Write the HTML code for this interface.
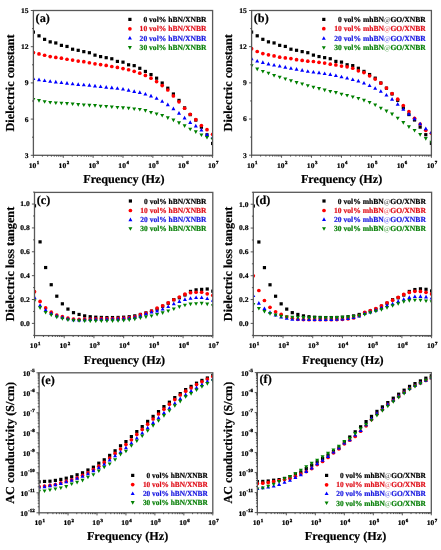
<!DOCTYPE html><html><head><meta charset="utf-8"><style>html,body{margin:0;padding:0;background:#fff;width:441px;height:550px;overflow:hidden}</style></head><body><svg width="441" height="550" viewBox="0 0 441 550" font-family='"Liberation Serif", serif' style="display:block;will-change:transform;text-rendering:geometricPrecision">
<rect width="441" height="550" fill="#fff"/>
<clipPath id="ca"><rect x="33.4" y="10.5" width="179.2" height="144.8"/></clipPath>
<g clip-path="url(#ca)">
<rect x="31.8" y="30.5" width="3.2" height="3.2" fill="#000000"/>
<rect x="37.4" y="34.24" width="3.2" height="3.2" fill="#000000"/>
<rect x="43" y="37.74" width="3.2" height="3.2" fill="#000000"/>
<rect x="48.6" y="40.27" width="3.2" height="3.2" fill="#000000"/>
<rect x="54.2" y="41.36" width="3.2" height="3.2" fill="#000000"/>
<rect x="59.8" y="43.77" width="3.2" height="3.2" fill="#000000"/>
<rect x="65.4" y="44.86" width="3.2" height="3.2" fill="#000000"/>
<rect x="71" y="47.63" width="3.2" height="3.2" fill="#000000"/>
<rect x="76.6" y="48.72" width="3.2" height="3.2" fill="#000000"/>
<rect x="82.2" y="50.05" width="3.2" height="3.2" fill="#000000"/>
<rect x="87.8" y="51.13" width="3.2" height="3.2" fill="#000000"/>
<rect x="93.4" y="53.55" width="3.2" height="3.2" fill="#000000"/>
<rect x="99" y="54.99" width="3.2" height="3.2" fill="#000000"/>
<rect x="104.6" y="56.08" width="3.2" height="3.2" fill="#000000"/>
<rect x="110.2" y="57.17" width="3.2" height="3.2" fill="#000000"/>
<rect x="115.8" y="59.82" width="3.2" height="3.2" fill="#000000"/>
<rect x="121.4" y="60.55" width="3.2" height="3.2" fill="#000000"/>
<rect x="127" y="63.2" width="3.2" height="3.2" fill="#000000"/>
<rect x="132.6" y="64.04" width="3.2" height="3.2" fill="#000000"/>
<rect x="138.2" y="66.7" width="3.2" height="3.2" fill="#000000"/>
<rect x="143.8" y="69.84" width="3.2" height="3.2" fill="#000000"/>
<rect x="149.4" y="72.97" width="3.2" height="3.2" fill="#000000"/>
<rect x="155" y="76.59" width="3.2" height="3.2" fill="#000000"/>
<rect x="160.6" y="81.42" width="3.2" height="3.2" fill="#000000"/>
<rect x="166.2" y="86.61" width="3.2" height="3.2" fill="#000000"/>
<rect x="171.8" y="92.4" width="3.2" height="3.2" fill="#000000"/>
<rect x="177.4" y="98.8" width="3.2" height="3.2" fill="#000000"/>
<rect x="183" y="106.28" width="3.2" height="3.2" fill="#000000"/>
<rect x="188.6" y="113.04" width="3.2" height="3.2" fill="#000000"/>
<rect x="194.2" y="118.47" width="3.2" height="3.2" fill="#000000"/>
<rect x="199.8" y="125.58" width="3.2" height="3.2" fill="#000000"/>
<rect x="205.4" y="133.19" width="3.2" height="3.2" fill="#000000"/>
<rect x="211" y="141.87" width="3.2" height="3.2" fill="#000000"/>
<circle cx="33.4" cy="52.61" r="1.85" fill="#ff0000"/>
<circle cx="39" cy="53.94" r="1.85" fill="#ff0000"/>
<circle cx="44.6" cy="55.27" r="1.85" fill="#ff0000"/>
<circle cx="50.2" cy="56.59" r="1.85" fill="#ff0000"/>
<circle cx="55.8" cy="57.44" r="1.85" fill="#ff0000"/>
<circle cx="61.4" cy="58.16" r="1.85" fill="#ff0000"/>
<circle cx="67" cy="59.25" r="1.85" fill="#ff0000"/>
<circle cx="72.6" cy="60.09" r="1.85" fill="#ff0000"/>
<circle cx="78.2" cy="61.06" r="1.85" fill="#ff0000"/>
<circle cx="83.8" cy="61.66" r="1.85" fill="#ff0000"/>
<circle cx="89.4" cy="62.75" r="1.85" fill="#ff0000"/>
<circle cx="95" cy="63.83" r="1.85" fill="#ff0000"/>
<circle cx="100.6" cy="64.56" r="1.85" fill="#ff0000"/>
<circle cx="106.2" cy="65.4" r="1.85" fill="#ff0000"/>
<circle cx="111.8" cy="66.49" r="1.85" fill="#ff0000"/>
<circle cx="117.4" cy="67.45" r="1.85" fill="#ff0000"/>
<circle cx="123" cy="68.54" r="1.85" fill="#ff0000"/>
<circle cx="128.6" cy="69.75" r="1.85" fill="#ff0000"/>
<circle cx="134.2" cy="71.32" r="1.85" fill="#ff0000"/>
<circle cx="139.8" cy="73.13" r="1.85" fill="#ff0000"/>
<circle cx="145.4" cy="75.42" r="1.85" fill="#ff0000"/>
<circle cx="151" cy="78.19" r="1.85" fill="#ff0000"/>
<circle cx="156.6" cy="81.57" r="1.85" fill="#ff0000"/>
<circle cx="162.2" cy="85.55" r="1.85" fill="#ff0000"/>
<circle cx="167.8" cy="90.02" r="1.85" fill="#ff0000"/>
<circle cx="173.4" cy="95.93" r="1.85" fill="#ff0000"/>
<circle cx="179" cy="101.84" r="1.85" fill="#ff0000"/>
<circle cx="184.6" cy="108.24" r="1.85" fill="#ff0000"/>
<circle cx="190.2" cy="114.27" r="1.85" fill="#ff0000"/>
<circle cx="195.8" cy="119.7" r="1.85" fill="#ff0000"/>
<circle cx="201.4" cy="125.5" r="1.85" fill="#ff0000"/>
<circle cx="207" cy="129.72" r="1.85" fill="#ff0000"/>
<circle cx="212.6" cy="134.3" r="1.85" fill="#ff0000"/>
<path d="M31.4 79.97L35.4 79.97L33.4 76.37Z" fill="#0000ff"/>
<path d="M37 81.17L41 81.17L39 77.57Z" fill="#0000ff"/>
<path d="M42.6 82.02L46.6 82.02L44.6 78.42Z" fill="#0000ff"/>
<path d="M48.2 82.74L52.2 82.74L50.2 79.14Z" fill="#0000ff"/>
<path d="M53.8 83.46L57.8 83.46L55.8 79.86Z" fill="#0000ff"/>
<path d="M59.4 84.07L63.4 84.07L61.4 80.47Z" fill="#0000ff"/>
<path d="M65 84.67L69 84.67L67 81.07Z" fill="#0000ff"/>
<path d="M70.6 85.27L74.6 85.27L72.6 81.67Z" fill="#0000ff"/>
<path d="M76.2 85.88L80.2 85.88L78.2 82.28Z" fill="#0000ff"/>
<path d="M81.8 86.24L85.8 86.24L83.8 82.64Z" fill="#0000ff"/>
<path d="M87.4 86.72L91.4 86.72L89.4 83.12Z" fill="#0000ff"/>
<path d="M93 87.45L97 87.45L95 83.85Z" fill="#0000ff"/>
<path d="M98.6 88.05L102.6 88.05L100.6 84.45Z" fill="#0000ff"/>
<path d="M104.2 88.65L108.2 88.65L106.2 85.05Z" fill="#0000ff"/>
<path d="M109.8 89.14L113.8 89.14L111.8 85.54Z" fill="#0000ff"/>
<path d="M115.4 89.86L119.4 89.86L117.4 86.26Z" fill="#0000ff"/>
<path d="M121 90.58L125 90.58L123 86.98Z" fill="#0000ff"/>
<path d="M126.6 91.67L130.6 91.67L128.6 88.07Z" fill="#0000ff"/>
<path d="M132.2 92.88L136.2 92.88L134.2 89.28Z" fill="#0000ff"/>
<path d="M137.8 93.96L141.8 93.96L139.8 90.36Z" fill="#0000ff"/>
<path d="M143.4 95.53L147.4 95.53L145.4 91.93Z" fill="#0000ff"/>
<path d="M149 97.46L153 97.46L151 93.86Z" fill="#0000ff"/>
<path d="M154.6 99.75L158.6 99.75L156.6 96.15Z" fill="#0000ff"/>
<path d="M160.2 102.77L164.2 102.77L162.2 99.17Z" fill="#0000ff"/>
<path d="M165.8 106.15L169.8 106.15L167.8 102.55Z" fill="#0000ff"/>
<path d="M171.4 110.13L175.4 110.13L173.4 106.53Z" fill="#0000ff"/>
<path d="M177 114.72L181 114.72L179 111.12Z" fill="#0000ff"/>
<path d="M182.6 119.42L186.6 119.42L184.6 115.82Z" fill="#0000ff"/>
<path d="M188.2 123.89L192.2 123.89L190.2 120.29Z" fill="#0000ff"/>
<path d="M193.8 127.39L197.8 127.39L195.8 123.79Z" fill="#0000ff"/>
<path d="M199.4 131.61L203.4 131.61L201.4 128.01Z" fill="#0000ff"/>
<path d="M205 136.2L209 136.2L207 132.6Z" fill="#0000ff"/>
<path d="M210.6 138.97L214.6 138.97L212.6 135.37Z" fill="#0000ff"/>
<path d="M31.4 98.02L35.4 98.02L33.4 101.62Z" fill="#008000"/>
<path d="M37 99.11L41 99.11L39 102.71Z" fill="#008000"/>
<path d="M42.6 100.19L46.6 100.19L44.6 103.79Z" fill="#008000"/>
<path d="M48.2 100.92L52.2 100.92L50.2 104.52Z" fill="#008000"/>
<path d="M53.8 101.4L57.8 101.4L55.8 105Z" fill="#008000"/>
<path d="M59.4 101.76L63.4 101.76L61.4 105.36Z" fill="#008000"/>
<path d="M65 102.12L69 102.12L67 105.72Z" fill="#008000"/>
<path d="M70.6 102.49L74.6 102.49L72.6 106.09Z" fill="#008000"/>
<path d="M76.2 103.09L80.2 103.09L78.2 106.69Z" fill="#008000"/>
<path d="M81.8 103.45L85.8 103.45L83.8 107.05Z" fill="#008000"/>
<path d="M87.4 103.81L91.4 103.81L89.4 107.41Z" fill="#008000"/>
<path d="M93 104.06L97 104.06L95 107.66Z" fill="#008000"/>
<path d="M98.6 104.66L102.6 104.66L100.6 108.26Z" fill="#008000"/>
<path d="M104.2 105.02L108.2 105.02L106.2 108.62Z" fill="#008000"/>
<path d="M109.8 105.5L113.8 105.5L111.8 109.1Z" fill="#008000"/>
<path d="M115.4 105.99L119.4 105.99L117.4 109.59Z" fill="#008000"/>
<path d="M121 106.35L125 106.35L123 109.95Z" fill="#008000"/>
<path d="M126.6 106.71L130.6 106.71L128.6 110.31Z" fill="#008000"/>
<path d="M132.2 107.43L136.2 107.43L134.2 111.03Z" fill="#008000"/>
<path d="M137.8 107.92L141.8 107.92L139.8 111.52Z" fill="#008000"/>
<path d="M143.4 109.12L147.4 109.12L145.4 112.72Z" fill="#008000"/>
<path d="M149 110.93L153 110.93L151 114.53Z" fill="#008000"/>
<path d="M154.6 112.38L158.6 112.38L156.6 115.98Z" fill="#008000"/>
<path d="M160.2 113.95L164.2 113.95L162.2 117.55Z" fill="#008000"/>
<path d="M165.8 116.36L169.8 116.36L167.8 119.96Z" fill="#008000"/>
<path d="M171.4 118.54L175.4 118.54L173.4 122.14Z" fill="#008000"/>
<path d="M177 121.31L181 121.31L179 124.91Z" fill="#008000"/>
<path d="M182.6 124.33L186.6 124.33L184.6 127.93Z" fill="#008000"/>
<path d="M188.2 127.71L192.2 127.71L190.2 131.31Z" fill="#008000"/>
<path d="M193.8 130.36L197.8 130.36L195.8 133.96Z" fill="#008000"/>
<path d="M199.4 133.5L203.4 133.5L201.4 137.1Z" fill="#008000"/>
<path d="M205 135.91L209 135.91L207 139.51Z" fill="#008000"/>
<path d="M210.6 137.72L214.6 137.72L212.6 141.32Z" fill="#008000"/>
</g>
<rect x="33.4" y="10.5" width="179.2" height="144.8" fill="none" stroke="#585858" stroke-width="1.3"/>
<text transform="translate(34,167.8) scale(1,0.95)" font-size="7.6" text-anchor="middle" fill="#000" stroke="#000" stroke-width="0.2" font-weight="bold" >10<tspan font-size="4.9" dx="0.5" dy="-3.5" stroke-width="0.35">1</tspan></text>
<text transform="translate(63.87,167.8) scale(1,0.95)" font-size="7.6" text-anchor="middle" fill="#000" stroke="#000" stroke-width="0.2" font-weight="bold" >10<tspan font-size="4.9" dx="0.5" dy="-3.5" stroke-width="0.35">2</tspan></text>
<text transform="translate(93.73,167.8) scale(1,0.95)" font-size="7.6" text-anchor="middle" fill="#000" stroke="#000" stroke-width="0.2" font-weight="bold" >10<tspan font-size="4.9" dx="0.5" dy="-3.5" stroke-width="0.35">3</tspan></text>
<text transform="translate(123.6,167.8) scale(1,0.95)" font-size="7.6" text-anchor="middle" fill="#000" stroke="#000" stroke-width="0.2" font-weight="bold" >10<tspan font-size="4.9" dx="0.5" dy="-3.5" stroke-width="0.35">4</tspan></text>
<text transform="translate(153.47,167.8) scale(1,0.95)" font-size="7.6" text-anchor="middle" fill="#000" stroke="#000" stroke-width="0.2" font-weight="bold" >10<tspan font-size="4.9" dx="0.5" dy="-3.5" stroke-width="0.35">5</tspan></text>
<text transform="translate(183.33,167.8) scale(1,0.95)" font-size="7.6" text-anchor="middle" fill="#000" stroke="#000" stroke-width="0.2" font-weight="bold" >10<tspan font-size="4.9" dx="0.5" dy="-3.5" stroke-width="0.35">6</tspan></text>
<text transform="translate(213.2,167.8) scale(1,0.95)" font-size="7.6" text-anchor="middle" fill="#000" stroke="#000" stroke-width="0.2" font-weight="bold" >10<tspan font-size="4.9" dx="0.5" dy="-3.5" stroke-width="0.35">7</tspan></text>
<path d="M33.4 155.3V157.9M42.39 155.3V156.7M47.65 155.3V156.7M51.38 155.3V156.7M54.28 155.3V156.7M56.64 155.3V156.7M58.64 155.3V156.7M60.37 155.3V156.7M61.9 155.3V156.7M63.27 155.3V157.9M72.26 155.3V156.7M77.52 155.3V156.7M81.25 155.3V156.7M84.14 155.3V156.7M86.51 155.3V156.7M88.51 155.3V156.7M90.24 155.3V156.7M91.77 155.3V156.7M93.13 155.3V157.9M102.12 155.3V156.7M107.38 155.3V156.7M111.11 155.3V156.7M114.01 155.3V156.7M116.37 155.3V156.7M118.37 155.3V156.7M120.11 155.3V156.7M121.63 155.3V156.7M123 155.3V157.9M131.99 155.3V156.7M137.25 155.3V156.7M140.98 155.3V156.7M143.88 155.3V156.7M146.24 155.3V156.7M148.24 155.3V156.7M149.97 155.3V156.7M151.5 155.3V156.7M152.87 155.3V157.9M161.86 155.3V156.7M167.12 155.3V156.7M170.85 155.3V156.7M173.74 155.3V156.7M176.11 155.3V156.7M178.11 155.3V156.7M179.84 155.3V156.7M181.37 155.3V156.7M182.73 155.3V157.9M191.72 155.3V156.7M196.98 155.3V156.7M200.71 155.3V156.7M203.61 155.3V156.7M205.97 155.3V156.7M207.97 155.3V156.7M209.71 155.3V156.7M211.23 155.3V156.7M212.6 155.3V157.9" stroke="#454545" stroke-width="0.9" fill="none"/>
<text transform="translate(28.6,157.7) scale(1,0.95)" font-size="7.6" text-anchor="end" fill="#000" stroke="#000" stroke-width="0.2" font-weight="bold" >3</text>
<text transform="translate(28.6,121.5) scale(1,0.95)" font-size="7.6" text-anchor="end" fill="#000" stroke="#000" stroke-width="0.2" font-weight="bold" >6</text>
<text transform="translate(28.6,85.3) scale(1,0.95)" font-size="7.6" text-anchor="end" fill="#000" stroke="#000" stroke-width="0.2" font-weight="bold" >9</text>
<text transform="translate(28.6,49.1) scale(1,0.95)" font-size="7.6" text-anchor="end" fill="#000" stroke="#000" stroke-width="0.2" font-weight="bold" >12</text>
<text transform="translate(28.6,12.9) scale(1,0.95)" font-size="7.6" text-anchor="end" fill="#000" stroke="#000" stroke-width="0.2" font-weight="bold" >15</text>
<path d="M33.4 155.3H30.8M33.4 137.2H32M33.4 119.1H30.8M33.4 101H32M33.4 82.9H30.8M33.4 64.8H32M33.4 46.7H30.8M33.4 28.6H32M33.4 10.5H30.8" stroke="#454545" stroke-width="0.9" fill="none"/>
<text x="35.6" y="21.7" font-size="12.2" text-anchor="start" fill="#000" stroke="#000" stroke-width="0.2" font-weight="bold" >(a)</text>
<text x="123.9" y="183.3" font-size="12.2" text-anchor="middle" fill="#000" stroke="#000" stroke-width="0.2" font-weight="bold" >Frequency (Hz)</text>
<text transform="translate(13.6,82.9) rotate(-90)" x="0" y="0" font-size="12.2" text-anchor="middle" font-weight="bold" stroke="#000" stroke-width="0.2">Dielectric constant</text>
<rect x="128.3" y="17.8" width="3.2" height="3.2" fill="#000000"/>
<text transform="translate(206.5,22) scale(0.985,1)" font-size="7.7" text-anchor="end" fill="#000000" stroke="#000000" stroke-width="0.2" font-weight="bold" >0 vol% hBN/XNBR</text>
<circle cx="129.9" cy="28.8" r="1.85" fill="#ff0000"/>
<text transform="translate(206.5,31.4) scale(0.985,1)" font-size="7.7" text-anchor="end" fill="#e0101a" stroke="#e0101a" stroke-width="0.2" font-weight="bold" >10 vol% hBN/XNBR</text>
<path d="M127.9 39.53L131.9 39.53L129.9 35.93Z" fill="#0000ff"/>
<text transform="translate(206.5,40.6) scale(0.985,1)" font-size="7.7" text-anchor="end" fill="#1818e0" stroke="#1818e0" stroke-width="0.2" font-weight="bold" >20 vol% hBN/XNBR</text>
<path d="M127.9 46.07L131.9 46.07L129.9 49.67Z" fill="#008000"/>
<text transform="translate(206.5,50.2) scale(0.985,1)" font-size="7.7" text-anchor="end" fill="#0a800a" stroke="#0a800a" stroke-width="0.2" font-weight="bold" >30 vol% hBN/XNBR</text>
<clipPath id="cb"><rect x="251.6" y="10.5" width="179.8" height="144.7"/></clipPath>
<g clip-path="url(#cb)">
<rect x="250" y="30.48" width="3.2" height="3.2" fill="#000000"/>
<rect x="255.62" y="34.22" width="3.2" height="3.2" fill="#000000"/>
<rect x="261.24" y="37.72" width="3.2" height="3.2" fill="#000000"/>
<rect x="266.86" y="40.25" width="3.2" height="3.2" fill="#000000"/>
<rect x="272.47" y="41.34" width="3.2" height="3.2" fill="#000000"/>
<rect x="278.09" y="43.75" width="3.2" height="3.2" fill="#000000"/>
<rect x="283.71" y="44.83" width="3.2" height="3.2" fill="#000000"/>
<rect x="289.33" y="47.61" width="3.2" height="3.2" fill="#000000"/>
<rect x="294.95" y="48.69" width="3.2" height="3.2" fill="#000000"/>
<rect x="300.57" y="50.02" width="3.2" height="3.2" fill="#000000"/>
<rect x="306.19" y="51.1" width="3.2" height="3.2" fill="#000000"/>
<rect x="311.81" y="53.52" width="3.2" height="3.2" fill="#000000"/>
<rect x="317.42" y="54.96" width="3.2" height="3.2" fill="#000000"/>
<rect x="323.04" y="56.05" width="3.2" height="3.2" fill="#000000"/>
<rect x="328.66" y="57.13" width="3.2" height="3.2" fill="#000000"/>
<rect x="334.28" y="59.79" width="3.2" height="3.2" fill="#000000"/>
<rect x="339.9" y="60.51" width="3.2" height="3.2" fill="#000000"/>
<rect x="345.52" y="63.16" width="3.2" height="3.2" fill="#000000"/>
<rect x="351.14" y="64.01" width="3.2" height="3.2" fill="#000000"/>
<rect x="356.76" y="66.66" width="3.2" height="3.2" fill="#000000"/>
<rect x="362.37" y="69.79" width="3.2" height="3.2" fill="#000000"/>
<rect x="367.99" y="72.93" width="3.2" height="3.2" fill="#000000"/>
<rect x="373.61" y="76.55" width="3.2" height="3.2" fill="#000000"/>
<rect x="379.23" y="81.37" width="3.2" height="3.2" fill="#000000"/>
<rect x="384.85" y="86.56" width="3.2" height="3.2" fill="#000000"/>
<rect x="390.47" y="92.34" width="3.2" height="3.2" fill="#000000"/>
<rect x="396.09" y="98.73" width="3.2" height="3.2" fill="#000000"/>
<rect x="401.71" y="106.21" width="3.2" height="3.2" fill="#000000"/>
<rect x="407.32" y="112.96" width="3.2" height="3.2" fill="#000000"/>
<rect x="412.94" y="118.39" width="3.2" height="3.2" fill="#000000"/>
<rect x="418.56" y="125.5" width="3.2" height="3.2" fill="#000000"/>
<rect x="424.18" y="133.1" width="3.2" height="3.2" fill="#000000"/>
<rect x="429.8" y="141.78" width="3.2" height="3.2" fill="#000000"/>
<circle cx="251.6" cy="48.72" r="1.85" fill="#ff0000"/>
<circle cx="257.22" cy="51.5" r="1.85" fill="#ff0000"/>
<circle cx="262.84" cy="53.55" r="1.85" fill="#ff0000"/>
<circle cx="268.46" cy="54.87" r="1.85" fill="#ff0000"/>
<circle cx="274.07" cy="55.96" r="1.85" fill="#ff0000"/>
<circle cx="279.69" cy="57.17" r="1.85" fill="#ff0000"/>
<circle cx="285.31" cy="57.89" r="1.85" fill="#ff0000"/>
<circle cx="290.93" cy="58.61" r="1.85" fill="#ff0000"/>
<circle cx="296.55" cy="59.7" r="1.85" fill="#ff0000"/>
<circle cx="302.17" cy="60.42" r="1.85" fill="#ff0000"/>
<circle cx="307.79" cy="61.14" r="1.85" fill="#ff0000"/>
<circle cx="313.41" cy="61.51" r="1.85" fill="#ff0000"/>
<circle cx="319.02" cy="62.35" r="1.85" fill="#ff0000"/>
<circle cx="324.64" cy="63.07" r="1.85" fill="#ff0000"/>
<circle cx="330.26" cy="64.16" r="1.85" fill="#ff0000"/>
<circle cx="335.88" cy="64.88" r="1.85" fill="#ff0000"/>
<circle cx="341.5" cy="66.09" r="1.85" fill="#ff0000"/>
<circle cx="347.12" cy="66.81" r="1.85" fill="#ff0000"/>
<circle cx="352.74" cy="68.26" r="1.85" fill="#ff0000"/>
<circle cx="358.36" cy="70.79" r="1.85" fill="#ff0000"/>
<circle cx="363.97" cy="72.6" r="1.85" fill="#ff0000"/>
<circle cx="369.59" cy="75.86" r="1.85" fill="#ff0000"/>
<circle cx="375.21" cy="79.11" r="1.85" fill="#ff0000"/>
<circle cx="380.83" cy="83.09" r="1.85" fill="#ff0000"/>
<circle cx="386.45" cy="88.04" r="1.85" fill="#ff0000"/>
<circle cx="392.07" cy="93.58" r="1.85" fill="#ff0000"/>
<circle cx="397.69" cy="99.13" r="1.85" fill="#ff0000"/>
<circle cx="403.31" cy="105.52" r="1.85" fill="#ff0000"/>
<circle cx="408.92" cy="111.67" r="1.85" fill="#ff0000"/>
<circle cx="414.54" cy="118.3" r="1.85" fill="#ff0000"/>
<circle cx="420.16" cy="124.09" r="1.85" fill="#ff0000"/>
<circle cx="425.78" cy="130.36" r="1.85" fill="#ff0000"/>
<circle cx="431.4" cy="133.25" r="1.85" fill="#ff0000"/>
<path d="M249.6 60.14L253.6 60.14L251.6 56.54Z" fill="#0000ff"/>
<path d="M255.22 62.55L259.22 62.55L257.22 58.95Z" fill="#0000ff"/>
<path d="M260.84 63.88L264.84 63.88L262.84 60.28Z" fill="#0000ff"/>
<path d="M266.46 65.45L270.46 65.45L268.46 61.85Z" fill="#0000ff"/>
<path d="M272.07 66.53L276.07 66.53L274.07 62.93Z" fill="#0000ff"/>
<path d="M277.69 67.62L281.69 67.62L279.69 64.02Z" fill="#0000ff"/>
<path d="M283.31 68.7L287.31 68.7L285.31 65.1Z" fill="#0000ff"/>
<path d="M288.93 69.79L292.93 69.79L290.93 66.19Z" fill="#0000ff"/>
<path d="M294.55 70.63L298.55 70.63L296.55 67.03Z" fill="#0000ff"/>
<path d="M300.17 71.72L304.17 71.72L302.17 68.12Z" fill="#0000ff"/>
<path d="M305.79 72.8L309.79 72.8L307.79 69.2Z" fill="#0000ff"/>
<path d="M311.41 73.53L315.41 73.53L313.41 69.93Z" fill="#0000ff"/>
<path d="M317.02 74.13L321.02 74.13L319.02 70.53Z" fill="#0000ff"/>
<path d="M322.64 75.1L326.64 75.1L324.64 71.5Z" fill="#0000ff"/>
<path d="M328.26 75.94L332.26 75.94L330.26 72.34Z" fill="#0000ff"/>
<path d="M333.88 77.02L337.88 77.02L335.88 73.42Z" fill="#0000ff"/>
<path d="M339.5 78.23L343.5 78.23L341.5 74.63Z" fill="#0000ff"/>
<path d="M345.12 79.56L349.12 79.56L347.12 75.96Z" fill="#0000ff"/>
<path d="M350.74 81L354.74 81L352.74 77.4Z" fill="#0000ff"/>
<path d="M356.36 82.45L360.36 82.45L358.36 78.85Z" fill="#0000ff"/>
<path d="M361.97 84.62L365.97 84.62L363.97 81.02Z" fill="#0000ff"/>
<path d="M367.59 87.03L371.59 87.03L369.59 83.43Z" fill="#0000ff"/>
<path d="M373.21 89.81L377.21 89.81L375.21 86.21Z" fill="#0000ff"/>
<path d="M378.83 92.82L382.83 92.82L380.83 89.22Z" fill="#0000ff"/>
<path d="M384.45 96.56L388.45 96.56L386.45 92.96Z" fill="#0000ff"/>
<path d="M390.07 100.66L394.07 100.66L392.07 97.06Z" fill="#0000ff"/>
<path d="M395.69 105.72L399.69 105.72L397.69 102.12Z" fill="#0000ff"/>
<path d="M401.31 110.79L405.31 110.79L403.31 107.19Z" fill="#0000ff"/>
<path d="M406.92 115.61L410.92 115.61L408.92 112.01Z" fill="#0000ff"/>
<path d="M412.54 120.19L416.54 120.19L414.54 116.59Z" fill="#0000ff"/>
<path d="M418.16 125.26L422.16 125.26L420.16 121.66Z" fill="#0000ff"/>
<path d="M423.78 130.2L427.78 130.2L425.78 126.6Z" fill="#0000ff"/>
<path d="M429.4 133.82L433.4 133.82L431.4 130.22Z" fill="#0000ff"/>
<path d="M249.6 64.2L253.6 64.2L251.6 67.8Z" fill="#008000"/>
<path d="M255.22 67.57L259.22 67.57L257.22 71.17Z" fill="#008000"/>
<path d="M260.84 69.99L264.84 69.99L262.84 73.59Z" fill="#008000"/>
<path d="M266.46 71.67L270.46 71.67L268.46 75.27Z" fill="#008000"/>
<path d="M272.07 73.96L276.07 73.96L274.07 77.56Z" fill="#008000"/>
<path d="M277.69 75.77L281.69 75.77L279.69 79.37Z" fill="#008000"/>
<path d="M283.31 77.46L287.31 77.46L285.31 81.06Z" fill="#008000"/>
<path d="M288.93 79.27L292.93 79.27L290.93 82.87Z" fill="#008000"/>
<path d="M294.55 81.08L298.55 81.08L296.55 84.68Z" fill="#008000"/>
<path d="M300.17 82.41L304.17 82.41L302.17 86.01Z" fill="#008000"/>
<path d="M305.79 84.21L309.79 84.21L307.79 87.81Z" fill="#008000"/>
<path d="M311.41 85.66L315.41 85.66L313.41 89.26Z" fill="#008000"/>
<path d="M317.02 87.11L321.02 87.11L319.02 90.71Z" fill="#008000"/>
<path d="M322.64 88.55L326.64 88.55L324.64 92.15Z" fill="#008000"/>
<path d="M328.26 89.88L332.26 89.88L330.26 93.48Z" fill="#008000"/>
<path d="M333.88 91.09L337.88 91.09L335.88 94.69Z" fill="#008000"/>
<path d="M339.5 92.65L343.5 92.65L341.5 96.25Z" fill="#008000"/>
<path d="M345.12 93.98L349.12 93.98L347.12 97.58Z" fill="#008000"/>
<path d="M350.74 95.43L354.74 95.43L352.74 99.03Z" fill="#008000"/>
<path d="M356.36 97L360.36 97L358.36 100.6Z" fill="#008000"/>
<path d="M361.97 98.8L365.97 98.8L363.97 102.4Z" fill="#008000"/>
<path d="M367.59 100.98L371.59 100.98L369.59 104.58Z" fill="#008000"/>
<path d="M373.21 103.51L377.21 103.51L375.21 107.11Z" fill="#008000"/>
<path d="M378.83 106.64L382.83 106.64L380.83 110.24Z" fill="#008000"/>
<path d="M384.45 109.54L388.45 109.54L386.45 113.14Z" fill="#008000"/>
<path d="M390.07 112.55L394.07 112.55L392.07 116.15Z" fill="#008000"/>
<path d="M395.69 116.77L399.69 116.77L397.69 120.37Z" fill="#008000"/>
<path d="M401.31 121.11L405.31 121.11L403.31 124.71Z" fill="#008000"/>
<path d="M406.92 125.33L410.92 125.33L408.92 128.93Z" fill="#008000"/>
<path d="M412.54 128.95L416.54 128.95L414.54 132.55Z" fill="#008000"/>
<path d="M418.16 133.05L422.16 133.05L420.16 136.65Z" fill="#008000"/>
<path d="M423.78 137.03L427.78 137.03L425.78 140.63Z" fill="#008000"/>
<path d="M429.4 140.77L433.4 140.77L431.4 144.37Z" fill="#008000"/>
</g>
<rect x="251.6" y="10.5" width="179.8" height="144.7" fill="none" stroke="#585858" stroke-width="1.3"/>
<text transform="translate(252.2,167.7) scale(1,0.95)" font-size="7.6" text-anchor="middle" fill="#000" stroke="#000" stroke-width="0.2" font-weight="bold" >10<tspan font-size="4.9" dx="0.5" dy="-3.5" stroke-width="0.35">1</tspan></text>
<text transform="translate(282.17,167.7) scale(1,0.95)" font-size="7.6" text-anchor="middle" fill="#000" stroke="#000" stroke-width="0.2" font-weight="bold" >10<tspan font-size="4.9" dx="0.5" dy="-3.5" stroke-width="0.35">2</tspan></text>
<text transform="translate(312.13,167.7) scale(1,0.95)" font-size="7.6" text-anchor="middle" fill="#000" stroke="#000" stroke-width="0.2" font-weight="bold" >10<tspan font-size="4.9" dx="0.5" dy="-3.5" stroke-width="0.35">3</tspan></text>
<text transform="translate(342.1,167.7) scale(1,0.95)" font-size="7.6" text-anchor="middle" fill="#000" stroke="#000" stroke-width="0.2" font-weight="bold" >10<tspan font-size="4.9" dx="0.5" dy="-3.5" stroke-width="0.35">4</tspan></text>
<text transform="translate(372.07,167.7) scale(1,0.95)" font-size="7.6" text-anchor="middle" fill="#000" stroke="#000" stroke-width="0.2" font-weight="bold" >10<tspan font-size="4.9" dx="0.5" dy="-3.5" stroke-width="0.35">5</tspan></text>
<text transform="translate(402.03,167.7) scale(1,0.95)" font-size="7.6" text-anchor="middle" fill="#000" stroke="#000" stroke-width="0.2" font-weight="bold" >10<tspan font-size="4.9" dx="0.5" dy="-3.5" stroke-width="0.35">6</tspan></text>
<text transform="translate(432,167.7) scale(1,0.95)" font-size="7.6" text-anchor="middle" fill="#000" stroke="#000" stroke-width="0.2" font-weight="bold" >10<tspan font-size="4.9" dx="0.5" dy="-3.5" stroke-width="0.35">7</tspan></text>
<path d="M251.6 155.2V157.8M260.62 155.2V156.6M265.9 155.2V156.6M269.64 155.2V156.6M272.55 155.2V156.6M274.92 155.2V156.6M276.92 155.2V156.6M278.66 155.2V156.6M280.2 155.2V156.6M281.57 155.2V157.8M290.59 155.2V156.6M295.86 155.2V156.6M299.61 155.2V156.6M302.51 155.2V156.6M304.89 155.2V156.6M306.89 155.2V156.6M308.63 155.2V156.6M310.16 155.2V156.6M311.53 155.2V157.8M320.55 155.2V156.6M325.83 155.2V156.6M329.58 155.2V156.6M332.48 155.2V156.6M334.85 155.2V156.6M336.86 155.2V156.6M338.6 155.2V156.6M340.13 155.2V156.6M341.5 155.2V157.8M350.52 155.2V156.6M355.8 155.2V156.6M359.54 155.2V156.6M362.45 155.2V156.6M364.82 155.2V156.6M366.82 155.2V156.6M368.56 155.2V156.6M370.1 155.2V156.6M371.47 155.2V157.8M380.49 155.2V156.6M385.76 155.2V156.6M389.51 155.2V156.6M392.41 155.2V156.6M394.79 155.2V156.6M396.79 155.2V156.6M398.53 155.2V156.6M400.06 155.2V156.6M401.43 155.2V157.8M410.45 155.2V156.6M415.73 155.2V156.6M419.48 155.2V156.6M422.38 155.2V156.6M424.75 155.2V156.6M426.76 155.2V156.6M428.5 155.2V156.6M430.03 155.2V156.6M431.4 155.2V157.8" stroke="#454545" stroke-width="0.9" fill="none"/>
<text transform="translate(246.8,157.6) scale(1,0.95)" font-size="7.6" text-anchor="end" fill="#000" stroke="#000" stroke-width="0.2" font-weight="bold" >3</text>
<text transform="translate(246.8,121.42) scale(1,0.95)" font-size="7.6" text-anchor="end" fill="#000" stroke="#000" stroke-width="0.2" font-weight="bold" >6</text>
<text transform="translate(246.8,85.25) scale(1,0.95)" font-size="7.6" text-anchor="end" fill="#000" stroke="#000" stroke-width="0.2" font-weight="bold" >9</text>
<text transform="translate(246.8,49.07) scale(1,0.95)" font-size="7.6" text-anchor="end" fill="#000" stroke="#000" stroke-width="0.2" font-weight="bold" >12</text>
<text transform="translate(246.8,12.9) scale(1,0.95)" font-size="7.6" text-anchor="end" fill="#000" stroke="#000" stroke-width="0.2" font-weight="bold" >15</text>
<path d="M251.6 155.2H249M251.6 137.11H250.2M251.6 119.02H249M251.6 100.94H250.2M251.6 82.85H249M251.6 64.76H250.2M251.6 46.67H249M251.6 28.59H250.2M251.6 10.5H249" stroke="#454545" stroke-width="0.9" fill="none"/>
<text x="253.8" y="21.7" font-size="12.2" text-anchor="start" fill="#000" stroke="#000" stroke-width="0.2" font-weight="bold" >(b)</text>
<text x="341.6" y="183.2" font-size="12.2" text-anchor="middle" fill="#000" stroke="#000" stroke-width="0.2" font-weight="bold" >Frequency (Hz)</text>
<text transform="translate(232.4,82.85) rotate(-90)" x="0" y="0" font-size="12.2" text-anchor="middle" font-weight="bold" stroke="#000" stroke-width="0.2">Dielectric constant</text>
<rect x="322.2" y="17.8" width="3.2" height="3.2" fill="#000000"/>
<text transform="translate(425.8,22) scale(0.985,1)" font-size="7.7" text-anchor="end" fill="#000000" stroke="#000000" stroke-width="0.2" font-weight="bold" >0 vol% mhBN<tspan font-size="7.2" font-weight="normal" stroke-width="0" fill-opacity="0.8">@</tspan>GO/XNBR</text>
<circle cx="323.8" cy="28.7" r="1.85" fill="#ff0000"/>
<text transform="translate(425.8,31.3) scale(0.985,1)" font-size="7.7" text-anchor="end" fill="#e0101a" stroke="#e0101a" stroke-width="0.2" font-weight="bold" >10 vol% mhBN<tspan font-size="7.2" font-weight="normal" stroke-width="0" fill-opacity="0.8">@</tspan>GO/XNBR</text>
<path d="M321.8 39.73L325.8 39.73L323.8 36.13Z" fill="#0000ff"/>
<text transform="translate(425.8,40.8) scale(0.985,1)" font-size="7.7" text-anchor="end" fill="#1818e0" stroke="#1818e0" stroke-width="0.2" font-weight="bold" >20 vol% mhBN<tspan font-size="7.2" font-weight="normal" stroke-width="0" fill-opacity="0.8">@</tspan>GO/XNBR</text>
<path d="M321.8 46.27L325.8 46.27L323.8 49.87Z" fill="#008000"/>
<text transform="translate(425.8,50.4) scale(0.985,1)" font-size="7.7" text-anchor="end" fill="#0a800a" stroke="#0a800a" stroke-width="0.2" font-weight="bold" >30 vol% mhBN<tspan font-size="7.2" font-weight="normal" stroke-width="0" fill-opacity="0.8">@</tspan>GO/XNBR</text>
<clipPath id="cc"><rect x="34.5" y="192.4" width="178.3" height="143.2"/></clipPath>
<g clip-path="url(#cc)">
<rect x="32.9" y="204.23" width="3.2" height="3.2" fill="#000000"/>
<rect x="38.47" y="240.27" width="3.2" height="3.2" fill="#000000"/>
<rect x="44.04" y="265.94" width="3.2" height="3.2" fill="#000000"/>
<rect x="49.62" y="283.13" width="3.2" height="3.2" fill="#000000"/>
<rect x="55.19" y="294.59" width="3.2" height="3.2" fill="#000000"/>
<rect x="60.76" y="302.22" width="3.2" height="3.2" fill="#000000"/>
<rect x="66.33" y="307.48" width="3.2" height="3.2" fill="#000000"/>
<rect x="71.9" y="311.06" width="3.2" height="3.2" fill="#000000"/>
<rect x="77.48" y="312.85" width="3.2" height="3.2" fill="#000000"/>
<rect x="83.05" y="314.28" width="3.2" height="3.2" fill="#000000"/>
<rect x="88.62" y="315.12" width="3.2" height="3.2" fill="#000000"/>
<rect x="94.19" y="315.59" width="3.2" height="3.2" fill="#000000"/>
<rect x="99.76" y="315.83" width="3.2" height="3.2" fill="#000000"/>
<rect x="105.33" y="315.95" width="3.2" height="3.2" fill="#000000"/>
<rect x="110.91" y="315.95" width="3.2" height="3.2" fill="#000000"/>
<rect x="116.48" y="315.83" width="3.2" height="3.2" fill="#000000"/>
<rect x="122.05" y="315.59" width="3.2" height="3.2" fill="#000000"/>
<rect x="127.62" y="315.12" width="3.2" height="3.2" fill="#000000"/>
<rect x="133.19" y="314.28" width="3.2" height="3.2" fill="#000000"/>
<rect x="138.77" y="312.85" width="3.2" height="3.2" fill="#000000"/>
<rect x="144.34" y="311.3" width="3.2" height="3.2" fill="#000000"/>
<rect x="149.91" y="309.51" width="3.2" height="3.2" fill="#000000"/>
<rect x="155.48" y="307.6" width="3.2" height="3.2" fill="#000000"/>
<rect x="161.05" y="304.61" width="3.2" height="3.2" fill="#000000"/>
<rect x="166.63" y="301.63" width="3.2" height="3.2" fill="#000000"/>
<rect x="172.2" y="298.05" width="3.2" height="3.2" fill="#000000"/>
<rect x="177.77" y="296.14" width="3.2" height="3.2" fill="#000000"/>
<rect x="183.34" y="293.39" width="3.2" height="3.2" fill="#000000"/>
<rect x="188.91" y="289.81" width="3.2" height="3.2" fill="#000000"/>
<rect x="194.48" y="288.26" width="3.2" height="3.2" fill="#000000"/>
<rect x="200.06" y="287.78" width="3.2" height="3.2" fill="#000000"/>
<rect x="205.63" y="287.42" width="3.2" height="3.2" fill="#000000"/>
<rect x="211.2" y="289.57" width="3.2" height="3.2" fill="#000000"/>
<circle cx="34.5" cy="291.65" r="1.85" fill="#ff0000"/>
<circle cx="40.07" cy="301.44" r="1.85" fill="#ff0000"/>
<circle cx="45.64" cy="307.88" r="1.85" fill="#ff0000"/>
<circle cx="51.22" cy="312.18" r="1.85" fill="#ff0000"/>
<circle cx="56.79" cy="315.04" r="1.85" fill="#ff0000"/>
<circle cx="62.36" cy="316.72" r="1.85" fill="#ff0000"/>
<circle cx="67.93" cy="318.15" r="1.85" fill="#ff0000"/>
<circle cx="73.5" cy="318.98" r="1.85" fill="#ff0000"/>
<circle cx="79.08" cy="319.46" r="1.85" fill="#ff0000"/>
<circle cx="84.65" cy="318.98" r="1.85" fill="#ff0000"/>
<circle cx="90.22" cy="318.98" r="1.85" fill="#ff0000"/>
<circle cx="95.79" cy="318.74" r="1.85" fill="#ff0000"/>
<circle cx="101.36" cy="318.63" r="1.85" fill="#ff0000"/>
<circle cx="106.93" cy="318.51" r="1.85" fill="#ff0000"/>
<circle cx="112.51" cy="318.51" r="1.85" fill="#ff0000"/>
<circle cx="118.08" cy="318.39" r="1.85" fill="#ff0000"/>
<circle cx="123.65" cy="318.15" r="1.85" fill="#ff0000"/>
<circle cx="129.22" cy="317.67" r="1.85" fill="#ff0000"/>
<circle cx="134.79" cy="316.83" r="1.85" fill="#ff0000"/>
<circle cx="140.37" cy="314.69" r="1.85" fill="#ff0000"/>
<circle cx="145.94" cy="313.13" r="1.85" fill="#ff0000"/>
<circle cx="151.51" cy="311.22" r="1.85" fill="#ff0000"/>
<circle cx="157.08" cy="308.12" r="1.85" fill="#ff0000"/>
<circle cx="162.65" cy="305.73" r="1.85" fill="#ff0000"/>
<circle cx="168.23" cy="302.87" r="1.85" fill="#ff0000"/>
<circle cx="173.8" cy="299.77" r="1.85" fill="#ff0000"/>
<circle cx="179.37" cy="297.02" r="1.85" fill="#ff0000"/>
<circle cx="184.94" cy="294.16" r="1.85" fill="#ff0000"/>
<circle cx="190.51" cy="292.72" r="1.85" fill="#ff0000"/>
<circle cx="196.08" cy="292.25" r="1.85" fill="#ff0000"/>
<circle cx="201.66" cy="292.25" r="1.85" fill="#ff0000"/>
<circle cx="207.23" cy="293.8" r="1.85" fill="#ff0000"/>
<circle cx="212.8" cy="295.35" r="1.85" fill="#ff0000"/>
<path d="M32.5 298.91L36.5 298.91L34.5 295.31Z" fill="#0000ff"/>
<path d="M38.07 306.79L42.07 306.79L40.07 303.19Z" fill="#0000ff"/>
<path d="M43.64 311.44L47.64 311.44L45.64 307.84Z" fill="#0000ff"/>
<path d="M49.22 314.78L53.22 314.78L51.22 311.18Z" fill="#0000ff"/>
<path d="M54.79 317.29L58.79 317.29L56.79 313.69Z" fill="#0000ff"/>
<path d="M60.36 318.96L64.36 318.96L62.36 315.36Z" fill="#0000ff"/>
<path d="M65.93 320.27L69.93 320.27L67.93 316.67Z" fill="#0000ff"/>
<path d="M71.5 321.23L75.5 321.23L73.5 317.63Z" fill="#0000ff"/>
<path d="M77.08 321.59L81.08 321.59L79.08 317.99Z" fill="#0000ff"/>
<path d="M82.65 321.35L86.65 321.35L84.65 317.75Z" fill="#0000ff"/>
<path d="M88.22 321.11L92.22 321.11L90.22 317.51Z" fill="#0000ff"/>
<path d="M93.79 320.87L97.79 320.87L95.79 317.27Z" fill="#0000ff"/>
<path d="M99.36 320.75L103.36 320.75L101.36 317.15Z" fill="#0000ff"/>
<path d="M104.93 320.63L108.93 320.63L106.93 317.03Z" fill="#0000ff"/>
<path d="M110.51 320.51L114.51 320.51L112.51 316.91Z" fill="#0000ff"/>
<path d="M116.08 320.39L120.08 320.39L118.08 316.79Z" fill="#0000ff"/>
<path d="M121.65 320.16L125.65 320.16L123.65 316.56Z" fill="#0000ff"/>
<path d="M127.22 319.68L131.22 319.68L129.22 316.08Z" fill="#0000ff"/>
<path d="M132.79 318.96L136.79 318.96L134.79 315.36Z" fill="#0000ff"/>
<path d="M138.37 317.41L142.37 317.41L140.37 313.81Z" fill="#0000ff"/>
<path d="M143.94 315.26L147.94 315.26L145.94 311.66Z" fill="#0000ff"/>
<path d="M149.51 313.59L153.51 313.59L151.51 309.99Z" fill="#0000ff"/>
<path d="M155.08 312.52L159.08 312.52L157.08 308.92Z" fill="#0000ff"/>
<path d="M160.65 310.49L164.65 310.49L162.65 306.89Z" fill="#0000ff"/>
<path d="M166.23 307.98L170.23 307.98L168.23 304.38Z" fill="#0000ff"/>
<path d="M171.8 305.35L175.8 305.35L173.8 301.75Z" fill="#0000ff"/>
<path d="M177.37 302.97L181.37 302.97L179.37 299.37Z" fill="#0000ff"/>
<path d="M182.94 300.94L186.94 300.94L184.94 297.34Z" fill="#0000ff"/>
<path d="M188.51 299.86L192.51 299.86L190.51 296.26Z" fill="#0000ff"/>
<path d="M194.08 299.03L198.08 299.03L196.08 295.43Z" fill="#0000ff"/>
<path d="M199.66 299.03L203.66 299.03L201.66 295.43Z" fill="#0000ff"/>
<path d="M205.23 300.1L209.23 300.1L207.23 296.5Z" fill="#0000ff"/>
<path d="M210.8 301.77L214.8 301.77L212.8 298.17Z" fill="#0000ff"/>
<path d="M32.5 299.19L36.5 299.19L34.5 302.79Z" fill="#008000"/>
<path d="M38.07 306.35L42.07 306.35L40.07 309.95Z" fill="#008000"/>
<path d="M43.64 310.89L47.64 310.89L45.64 314.49Z" fill="#008000"/>
<path d="M49.22 313.51L53.22 313.51L51.22 317.11Z" fill="#008000"/>
<path d="M54.79 315.54L58.79 315.54L56.79 319.14Z" fill="#008000"/>
<path d="M60.36 317.21L64.36 317.21L62.36 320.81Z" fill="#008000"/>
<path d="M65.93 318.41L69.93 318.41L67.93 322.01Z" fill="#008000"/>
<path d="M71.5 318.89L75.5 318.89L73.5 322.49Z" fill="#008000"/>
<path d="M77.08 319.24L81.08 319.24L79.08 322.84Z" fill="#008000"/>
<path d="M82.65 319.48L86.65 319.48L84.65 323.08Z" fill="#008000"/>
<path d="M88.22 319.48L92.22 319.48L90.22 323.08Z" fill="#008000"/>
<path d="M93.79 319.48L97.79 319.48L95.79 323.08Z" fill="#008000"/>
<path d="M99.36 319.48L103.36 319.48L101.36 323.08Z" fill="#008000"/>
<path d="M104.93 319.48L108.93 319.48L106.93 323.08Z" fill="#008000"/>
<path d="M110.51 319.36L114.51 319.36L112.51 322.96Z" fill="#008000"/>
<path d="M116.08 319.24L120.08 319.24L118.08 322.84Z" fill="#008000"/>
<path d="M121.65 318.89L125.65 318.89L123.65 322.49Z" fill="#008000"/>
<path d="M127.22 318.29L131.22 318.29L129.22 321.89Z" fill="#008000"/>
<path d="M132.79 317.57L136.79 317.57L134.79 321.17Z" fill="#008000"/>
<path d="M138.37 316.38L142.37 316.38L140.37 319.98Z" fill="#008000"/>
<path d="M143.94 315.31L147.94 315.31L145.94 318.9Z" fill="#008000"/>
<path d="M149.51 314.47L153.51 314.47L151.51 318.07Z" fill="#008000"/>
<path d="M155.08 312.92L159.08 312.92L157.08 316.52Z" fill="#008000"/>
<path d="M160.65 311.37L164.65 311.37L162.65 314.97Z" fill="#008000"/>
<path d="M166.23 309.46L170.23 309.46L168.23 313.06Z" fill="#008000"/>
<path d="M171.8 307.43L175.8 307.43L173.8 311.03Z" fill="#008000"/>
<path d="M177.37 305.28L181.37 305.28L179.37 308.88Z" fill="#008000"/>
<path d="M182.94 303.73L186.94 303.73L184.94 307.33Z" fill="#008000"/>
<path d="M188.51 302.53L192.51 302.53L190.51 306.13Z" fill="#008000"/>
<path d="M194.08 302.18L198.08 302.18L196.08 305.77Z" fill="#008000"/>
<path d="M199.66 301.82L203.66 301.82L201.66 305.42Z" fill="#008000"/>
<path d="M205.23 302.53L209.23 302.53L207.23 306.13Z" fill="#008000"/>
<path d="M210.8 304.2L214.8 304.2L212.8 307.8Z" fill="#008000"/>
</g>
<rect x="34.5" y="192.4" width="178.3" height="143.2" fill="none" stroke="#585858" stroke-width="1.3"/>
<text transform="translate(35.1,348.1) scale(1,0.95)" font-size="7.6" text-anchor="middle" fill="#000" stroke="#000" stroke-width="0.2" font-weight="bold" >10<tspan font-size="4.9" dx="0.5" dy="-3.5" stroke-width="0.35">1</tspan></text>
<text transform="translate(64.82,348.1) scale(1,0.95)" font-size="7.6" text-anchor="middle" fill="#000" stroke="#000" stroke-width="0.2" font-weight="bold" >10<tspan font-size="4.9" dx="0.5" dy="-3.5" stroke-width="0.35">2</tspan></text>
<text transform="translate(94.53,348.1) scale(1,0.95)" font-size="7.6" text-anchor="middle" fill="#000" stroke="#000" stroke-width="0.2" font-weight="bold" >10<tspan font-size="4.9" dx="0.5" dy="-3.5" stroke-width="0.35">3</tspan></text>
<text transform="translate(124.25,348.1) scale(1,0.95)" font-size="7.6" text-anchor="middle" fill="#000" stroke="#000" stroke-width="0.2" font-weight="bold" >10<tspan font-size="4.9" dx="0.5" dy="-3.5" stroke-width="0.35">4</tspan></text>
<text transform="translate(153.97,348.1) scale(1,0.95)" font-size="7.6" text-anchor="middle" fill="#000" stroke="#000" stroke-width="0.2" font-weight="bold" >10<tspan font-size="4.9" dx="0.5" dy="-3.5" stroke-width="0.35">5</tspan></text>
<text transform="translate(183.68,348.1) scale(1,0.95)" font-size="7.6" text-anchor="middle" fill="#000" stroke="#000" stroke-width="0.2" font-weight="bold" >10<tspan font-size="4.9" dx="0.5" dy="-3.5" stroke-width="0.35">6</tspan></text>
<text transform="translate(213.4,348.1) scale(1,0.95)" font-size="7.6" text-anchor="middle" fill="#000" stroke="#000" stroke-width="0.2" font-weight="bold" >10<tspan font-size="4.9" dx="0.5" dy="-3.5" stroke-width="0.35">7</tspan></text>
<path d="M34.5 335.6V338.2M43.45 335.6V337M48.68 335.6V337M52.39 335.6V337M55.27 335.6V337M57.62 335.6V337M59.61 335.6V337M61.34 335.6V337M62.86 335.6V337M64.22 335.6V338.2M73.16 335.6V337M78.4 335.6V337M82.11 335.6V337M84.99 335.6V337M87.34 335.6V337M89.33 335.6V337M91.05 335.6V337M92.57 335.6V337M93.93 335.6V338.2M102.88 335.6V337M108.11 335.6V337M111.82 335.6V337M114.7 335.6V337M117.06 335.6V337M119.05 335.6V337M120.77 335.6V337M122.29 335.6V337M123.65 335.6V338.2M132.6 335.6V337M137.83 335.6V337M141.54 335.6V337M144.42 335.6V337M146.77 335.6V337M148.76 335.6V337M150.49 335.6V337M152.01 335.6V337M153.37 335.6V338.2M162.31 335.6V337M167.55 335.6V337M171.26 335.6V337M174.14 335.6V337M176.49 335.6V337M178.48 335.6V337M180.2 335.6V337M181.72 335.6V337M183.08 335.6V338.2M192.03 335.6V337M197.26 335.6V337M200.97 335.6V337M203.85 335.6V337M206.21 335.6V337M208.2 335.6V337M209.92 335.6V337M211.44 335.6V337M212.8 335.6V338.2" stroke="#454545" stroke-width="0.9" fill="none"/>
<text transform="translate(29.7,325.8) scale(1,0.95)" font-size="7.6" text-anchor="end" fill="#000" stroke="#000" stroke-width="0.2" font-weight="bold" >0.0</text>
<text transform="translate(29.7,301.93) scale(1,0.95)" font-size="7.6" text-anchor="end" fill="#000" stroke="#000" stroke-width="0.2" font-weight="bold" >0.2</text>
<text transform="translate(29.7,278.05) scale(1,0.95)" font-size="7.6" text-anchor="end" fill="#000" stroke="#000" stroke-width="0.2" font-weight="bold" >0.4</text>
<text transform="translate(29.7,254.18) scale(1,0.95)" font-size="7.6" text-anchor="end" fill="#000" stroke="#000" stroke-width="0.2" font-weight="bold" >0.6</text>
<text transform="translate(29.7,230.31) scale(1,0.95)" font-size="7.6" text-anchor="end" fill="#000" stroke="#000" stroke-width="0.2" font-weight="bold" >0.8</text>
<text transform="translate(29.7,206.44) scale(1,0.95)" font-size="7.6" text-anchor="end" fill="#000" stroke="#000" stroke-width="0.2" font-weight="bold" >1.0</text>
<path d="M34.5 335.34H33.1M34.5 323.4H31.9M34.5 311.46H33.1M34.5 299.53H31.9M34.5 287.59H33.1M34.5 275.65H31.9M34.5 263.72H33.1M34.5 251.78H31.9M34.5 239.85H33.1M34.5 227.91H31.9M34.5 215.97H33.1M34.5 204.04H31.9M34.5 192.1H33.1" stroke="#454545" stroke-width="0.9" fill="none"/>
<text x="36.7" y="203.6" font-size="12.2" text-anchor="start" fill="#000" stroke="#000" stroke-width="0.2" font-weight="bold" >(c)</text>
<text x="124.45" y="363.6" font-size="12.2" text-anchor="middle" fill="#000" stroke="#000" stroke-width="0.2" font-weight="bold" >Frequency (Hz)</text>
<text transform="translate(13.6,264) rotate(-90)" x="0" y="0" font-size="12.2" text-anchor="middle" font-weight="bold" stroke="#000" stroke-width="0.2">Dielectric loss tangent</text>
<rect x="128.8" y="199.4" width="3.2" height="3.2" fill="#000000"/>
<text transform="translate(206.5,203.6) scale(0.975,1)" font-size="7.7" text-anchor="end" fill="#000000" stroke="#000000" stroke-width="0.2" font-weight="bold" >0 vol% hBN/XNBR</text>
<circle cx="130.4" cy="210.5" r="1.85" fill="#ff0000"/>
<text transform="translate(206.5,213.1) scale(0.975,1)" font-size="7.7" text-anchor="end" fill="#e0101a" stroke="#e0101a" stroke-width="0.2" font-weight="bold" >10 vol% hBN/XNBR</text>
<path d="M128.4 221.13L132.4 221.13L130.4 217.53Z" fill="#0000ff"/>
<text transform="translate(206.5,222.2) scale(0.975,1)" font-size="7.7" text-anchor="end" fill="#1818e0" stroke="#1818e0" stroke-width="0.2" font-weight="bold" >20 vol% hBN/XNBR</text>
<path d="M128.4 227.17L132.4 227.17L130.4 230.77Z" fill="#008000"/>
<text transform="translate(206.5,231.3) scale(0.975,1)" font-size="7.7" text-anchor="end" fill="#0a800a" stroke="#0a800a" stroke-width="0.2" font-weight="bold" >30 vol% hBN/XNBR</text>
<clipPath id="cd"><rect x="253.3" y="192.3" width="178.3" height="143.3"/></clipPath>
<g clip-path="url(#cd)">
<rect x="251.7" y="204.41" width="3.2" height="3.2" fill="#000000"/>
<rect x="257.27" y="240.4" width="3.2" height="3.2" fill="#000000"/>
<rect x="262.84" y="266.02" width="3.2" height="3.2" fill="#000000"/>
<rect x="268.42" y="283.19" width="3.2" height="3.2" fill="#000000"/>
<rect x="273.99" y="294.63" width="3.2" height="3.2" fill="#000000"/>
<rect x="279.56" y="302.25" width="3.2" height="3.2" fill="#000000"/>
<rect x="285.13" y="307.5" width="3.2" height="3.2" fill="#000000"/>
<rect x="290.7" y="311.07" width="3.2" height="3.2" fill="#000000"/>
<rect x="296.27" y="312.86" width="3.2" height="3.2" fill="#000000"/>
<rect x="301.85" y="314.29" width="3.2" height="3.2" fill="#000000"/>
<rect x="307.42" y="315.13" width="3.2" height="3.2" fill="#000000"/>
<rect x="312.99" y="315.6" width="3.2" height="3.2" fill="#000000"/>
<rect x="318.56" y="315.84" width="3.2" height="3.2" fill="#000000"/>
<rect x="324.13" y="315.96" width="3.2" height="3.2" fill="#000000"/>
<rect x="329.71" y="315.96" width="3.2" height="3.2" fill="#000000"/>
<rect x="335.28" y="315.84" width="3.2" height="3.2" fill="#000000"/>
<rect x="340.85" y="315.6" width="3.2" height="3.2" fill="#000000"/>
<rect x="346.42" y="315.13" width="3.2" height="3.2" fill="#000000"/>
<rect x="351.99" y="314.29" width="3.2" height="3.2" fill="#000000"/>
<rect x="357.57" y="312.86" width="3.2" height="3.2" fill="#000000"/>
<rect x="363.14" y="311.31" width="3.2" height="3.2" fill="#000000"/>
<rect x="368.71" y="309.52" width="3.2" height="3.2" fill="#000000"/>
<rect x="374.28" y="307.62" width="3.2" height="3.2" fill="#000000"/>
<rect x="379.85" y="304.64" width="3.2" height="3.2" fill="#000000"/>
<rect x="385.43" y="301.66" width="3.2" height="3.2" fill="#000000"/>
<rect x="391" y="298.08" width="3.2" height="3.2" fill="#000000"/>
<rect x="396.57" y="296.18" width="3.2" height="3.2" fill="#000000"/>
<rect x="402.14" y="293.43" width="3.2" height="3.2" fill="#000000"/>
<rect x="407.71" y="289.86" width="3.2" height="3.2" fill="#000000"/>
<rect x="413.28" y="287.95" width="3.2" height="3.2" fill="#000000"/>
<rect x="418.86" y="287.24" width="3.2" height="3.2" fill="#000000"/>
<rect x="424.43" y="287.71" width="3.2" height="3.2" fill="#000000"/>
<rect x="430" y="289.38" width="3.2" height="3.2" fill="#000000"/>
<circle cx="253.3" cy="275.85" r="1.85" fill="#ff0000"/>
<circle cx="258.87" cy="290.51" r="1.85" fill="#ff0000"/>
<circle cx="264.44" cy="300.52" r="1.85" fill="#ff0000"/>
<circle cx="270.02" cy="307.31" r="1.85" fill="#ff0000"/>
<circle cx="275.59" cy="311.84" r="1.85" fill="#ff0000"/>
<circle cx="281.16" cy="314.46" r="1.85" fill="#ff0000"/>
<circle cx="286.73" cy="316.96" r="1.85" fill="#ff0000"/>
<circle cx="292.3" cy="318.16" r="1.85" fill="#ff0000"/>
<circle cx="297.88" cy="319.35" r="1.85" fill="#ff0000"/>
<circle cx="303.45" cy="319.59" r="1.85" fill="#ff0000"/>
<circle cx="309.02" cy="319.71" r="1.85" fill="#ff0000"/>
<circle cx="314.59" cy="319.71" r="1.85" fill="#ff0000"/>
<circle cx="320.16" cy="319.71" r="1.85" fill="#ff0000"/>
<circle cx="325.73" cy="319.71" r="1.85" fill="#ff0000"/>
<circle cx="331.31" cy="319.71" r="1.85" fill="#ff0000"/>
<circle cx="336.88" cy="319.59" r="1.85" fill="#ff0000"/>
<circle cx="342.45" cy="319.35" r="1.85" fill="#ff0000"/>
<circle cx="348.02" cy="318.87" r="1.85" fill="#ff0000"/>
<circle cx="353.59" cy="317.92" r="1.85" fill="#ff0000"/>
<circle cx="359.17" cy="315.53" r="1.85" fill="#ff0000"/>
<circle cx="364.74" cy="312.32" r="1.85" fill="#ff0000"/>
<circle cx="370.31" cy="310.65" r="1.85" fill="#ff0000"/>
<circle cx="375.88" cy="308.62" r="1.85" fill="#ff0000"/>
<circle cx="381.45" cy="305.76" r="1.85" fill="#ff0000"/>
<circle cx="387.03" cy="302.78" r="1.85" fill="#ff0000"/>
<circle cx="392.6" cy="300.16" r="1.85" fill="#ff0000"/>
<circle cx="398.17" cy="297.3" r="1.85" fill="#ff0000"/>
<circle cx="403.74" cy="294.44" r="1.85" fill="#ff0000"/>
<circle cx="409.31" cy="292.41" r="1.85" fill="#ff0000"/>
<circle cx="414.88" cy="291.34" r="1.85" fill="#ff0000"/>
<circle cx="420.46" cy="291.46" r="1.85" fill="#ff0000"/>
<circle cx="426.03" cy="292.29" r="1.85" fill="#ff0000"/>
<circle cx="431.6" cy="293.96" r="1.85" fill="#ff0000"/>
<path d="M251.3 297.04L255.3 297.04L253.3 293.44Z" fill="#0000ff"/>
<path d="M256.87 304.67L260.87 304.67L258.87 301.07Z" fill="#0000ff"/>
<path d="M262.44 310.03L266.44 310.03L264.44 306.43Z" fill="#0000ff"/>
<path d="M268.02 313.73L272.02 313.73L270.02 310.13Z" fill="#0000ff"/>
<path d="M273.59 316.59L277.59 316.59L275.59 312.99Z" fill="#0000ff"/>
<path d="M279.16 318.49L283.16 318.49L281.16 314.89Z" fill="#0000ff"/>
<path d="M284.73 319.69L288.73 319.69L286.73 316.09Z" fill="#0000ff"/>
<path d="M290.3 320.64L294.3 320.64L292.3 317.04Z" fill="#0000ff"/>
<path d="M295.88 320.64L299.88 320.64L297.88 317.04Z" fill="#0000ff"/>
<path d="M301.45 320.76L305.45 320.76L303.45 317.16Z" fill="#0000ff"/>
<path d="M307.02 320.88L311.02 320.88L309.02 317.28Z" fill="#0000ff"/>
<path d="M312.59 320.88L316.59 320.88L314.59 317.28Z" fill="#0000ff"/>
<path d="M318.16 320.88L322.16 320.88L320.16 317.28Z" fill="#0000ff"/>
<path d="M323.73 320.88L327.73 320.88L325.73 317.28Z" fill="#0000ff"/>
<path d="M329.31 320.88L333.31 320.88L331.31 317.28Z" fill="#0000ff"/>
<path d="M334.88 320.76L338.88 320.76L336.88 317.16Z" fill="#0000ff"/>
<path d="M340.45 320.52L344.45 320.52L342.45 316.92Z" fill="#0000ff"/>
<path d="M346.02 320.04L350.02 320.04L348.02 316.44Z" fill="#0000ff"/>
<path d="M351.59 319.09L355.59 319.09L353.59 315.49Z" fill="#0000ff"/>
<path d="M357.17 317.54L361.17 317.54L359.17 313.94Z" fill="#0000ff"/>
<path d="M362.74 314.92L366.74 314.92L364.74 311.32Z" fill="#0000ff"/>
<path d="M368.31 313.49L372.31 313.49L370.31 309.89Z" fill="#0000ff"/>
<path d="M373.88 311.7L377.88 311.7L375.88 308.1Z" fill="#0000ff"/>
<path d="M379.45 309.44L383.45 309.44L381.45 305.84Z" fill="#0000ff"/>
<path d="M385.03 306.93L389.03 306.93L387.03 303.33Z" fill="#0000ff"/>
<path d="M390.6 305.26L394.6 305.26L392.6 301.66Z" fill="#0000ff"/>
<path d="M396.17 302.88L400.17 302.88L398.17 299.28Z" fill="#0000ff"/>
<path d="M401.74 300.86L405.74 300.86L403.74 297.26Z" fill="#0000ff"/>
<path d="M407.31 298.95L411.31 298.95L409.31 295.35Z" fill="#0000ff"/>
<path d="M412.88 298.11L416.88 298.11L414.88 294.51Z" fill="#0000ff"/>
<path d="M418.46 297.88L422.46 297.88L420.46 294.28Z" fill="#0000ff"/>
<path d="M424.03 298.47L428.03 298.47L426.03 294.87Z" fill="#0000ff"/>
<path d="M429.6 299.54L433.6 299.54L431.6 295.94Z" fill="#0000ff"/>
<path d="M251.3 303.04L255.3 303.04L253.3 306.64Z" fill="#008000"/>
<path d="M256.87 306.97L260.87 306.97L258.87 310.57Z" fill="#008000"/>
<path d="M262.44 309.95L266.44 309.95L264.44 313.55Z" fill="#008000"/>
<path d="M268.02 312.1L272.02 312.1L270.02 315.7Z" fill="#008000"/>
<path d="M273.59 313.41L277.59 313.41L275.59 317.01Z" fill="#008000"/>
<path d="M279.16 314.84L283.16 314.84L281.16 318.44Z" fill="#008000"/>
<path d="M284.73 315.43L288.73 315.43L286.73 319.03Z" fill="#008000"/>
<path d="M290.3 315.79L294.3 315.79L292.3 319.39Z" fill="#008000"/>
<path d="M295.88 315.91L299.88 315.91L297.88 319.51Z" fill="#008000"/>
<path d="M301.45 316.03L305.45 316.03L303.45 319.63Z" fill="#008000"/>
<path d="M307.02 316.15L311.02 316.15L309.02 319.75Z" fill="#008000"/>
<path d="M312.59 316.15L316.59 316.15L314.59 319.75Z" fill="#008000"/>
<path d="M318.16 316.15L322.16 316.15L320.16 319.75Z" fill="#008000"/>
<path d="M323.73 316.15L327.73 316.15L325.73 319.75Z" fill="#008000"/>
<path d="M329.31 316.15L333.31 316.15L331.31 319.75Z" fill="#008000"/>
<path d="M334.88 316.03L338.88 316.03L336.88 319.63Z" fill="#008000"/>
<path d="M340.45 315.79L344.45 315.79L342.45 319.39Z" fill="#008000"/>
<path d="M346.02 315.43L350.02 315.43L348.02 319.03Z" fill="#008000"/>
<path d="M351.59 314.96L355.59 314.96L353.59 318.56Z" fill="#008000"/>
<path d="M357.17 314.24L361.17 314.24L359.17 317.84Z" fill="#008000"/>
<path d="M362.74 312.93L366.74 312.93L364.74 316.53Z" fill="#008000"/>
<path d="M368.31 311.26L372.31 311.26L370.31 314.86Z" fill="#008000"/>
<path d="M373.88 309.71L377.88 309.71L375.88 313.31Z" fill="#008000"/>
<path d="M379.45 308.04L383.45 308.04L381.45 311.64Z" fill="#008000"/>
<path d="M385.03 306.26L389.03 306.26L387.03 309.86Z" fill="#008000"/>
<path d="M390.6 304.23L394.6 304.23L392.6 307.83Z" fill="#008000"/>
<path d="M396.17 302.2L400.17 302.2L398.17 305.8Z" fill="#008000"/>
<path d="M401.74 300.18L405.74 300.18L403.74 303.78Z" fill="#008000"/>
<path d="M407.31 299.11L411.31 299.11L409.31 302.71Z" fill="#008000"/>
<path d="M412.88 298.63L416.88 298.63L414.88 302.23Z" fill="#008000"/>
<path d="M418.46 298.75L422.46 298.75L420.46 302.35Z" fill="#008000"/>
<path d="M424.03 299.46L428.03 299.46L426.03 303.06Z" fill="#008000"/>
<path d="M429.6 300.3L433.6 300.3L431.6 303.9Z" fill="#008000"/>
</g>
<rect x="253.3" y="192.3" width="178.3" height="143.3" fill="none" stroke="#585858" stroke-width="1.3"/>
<text transform="translate(253.9,348.1) scale(1,0.95)" font-size="7.6" text-anchor="middle" fill="#000" stroke="#000" stroke-width="0.2" font-weight="bold" >10<tspan font-size="4.9" dx="0.5" dy="-3.5" stroke-width="0.35">1</tspan></text>
<text transform="translate(283.62,348.1) scale(1,0.95)" font-size="7.6" text-anchor="middle" fill="#000" stroke="#000" stroke-width="0.2" font-weight="bold" >10<tspan font-size="4.9" dx="0.5" dy="-3.5" stroke-width="0.35">2</tspan></text>
<text transform="translate(313.33,348.1) scale(1,0.95)" font-size="7.6" text-anchor="middle" fill="#000" stroke="#000" stroke-width="0.2" font-weight="bold" >10<tspan font-size="4.9" dx="0.5" dy="-3.5" stroke-width="0.35">3</tspan></text>
<text transform="translate(343.05,348.1) scale(1,0.95)" font-size="7.6" text-anchor="middle" fill="#000" stroke="#000" stroke-width="0.2" font-weight="bold" >10<tspan font-size="4.9" dx="0.5" dy="-3.5" stroke-width="0.35">4</tspan></text>
<text transform="translate(372.77,348.1) scale(1,0.95)" font-size="7.6" text-anchor="middle" fill="#000" stroke="#000" stroke-width="0.2" font-weight="bold" >10<tspan font-size="4.9" dx="0.5" dy="-3.5" stroke-width="0.35">5</tspan></text>
<text transform="translate(402.48,348.1) scale(1,0.95)" font-size="7.6" text-anchor="middle" fill="#000" stroke="#000" stroke-width="0.2" font-weight="bold" >10<tspan font-size="4.9" dx="0.5" dy="-3.5" stroke-width="0.35">6</tspan></text>
<text transform="translate(432.2,348.1) scale(1,0.95)" font-size="7.6" text-anchor="middle" fill="#000" stroke="#000" stroke-width="0.2" font-weight="bold" >10<tspan font-size="4.9" dx="0.5" dy="-3.5" stroke-width="0.35">7</tspan></text>
<path d="M253.3 335.6V338.2M262.25 335.6V337M267.48 335.6V337M271.19 335.6V337M274.07 335.6V337M276.42 335.6V337M278.41 335.6V337M280.14 335.6V337M281.66 335.6V337M283.02 335.6V338.2M291.96 335.6V337M297.2 335.6V337M300.91 335.6V337M303.79 335.6V337M306.14 335.6V337M308.13 335.6V337M309.85 335.6V337M311.37 335.6V337M312.73 335.6V338.2M321.68 335.6V337M326.91 335.6V337M330.62 335.6V337M333.5 335.6V337M335.86 335.6V337M337.85 335.6V337M339.57 335.6V337M341.09 335.6V337M342.45 335.6V338.2M351.4 335.6V337M356.63 335.6V337M360.34 335.6V337M363.22 335.6V337M365.57 335.6V337M367.56 335.6V337M369.29 335.6V337M370.81 335.6V337M372.17 335.6V338.2M381.11 335.6V337M386.35 335.6V337M390.06 335.6V337M392.94 335.6V337M395.29 335.6V337M397.28 335.6V337M399 335.6V337M400.52 335.6V337M401.88 335.6V338.2M410.83 335.6V337M416.06 335.6V337M419.77 335.6V337M422.65 335.6V337M425.01 335.6V337M427 335.6V337M428.72 335.6V337M430.24 335.6V337M431.6 335.6V338.2" stroke="#454545" stroke-width="0.9" fill="none"/>
<text transform="translate(248.5,325.8) scale(1,0.95)" font-size="7.6" text-anchor="end" fill="#000" stroke="#000" stroke-width="0.2" font-weight="bold" >0.0</text>
<text transform="translate(248.5,301.96) scale(1,0.95)" font-size="7.6" text-anchor="end" fill="#000" stroke="#000" stroke-width="0.2" font-weight="bold" >0.2</text>
<text transform="translate(248.5,278.13) scale(1,0.95)" font-size="7.6" text-anchor="end" fill="#000" stroke="#000" stroke-width="0.2" font-weight="bold" >0.4</text>
<text transform="translate(248.5,254.29) scale(1,0.95)" font-size="7.6" text-anchor="end" fill="#000" stroke="#000" stroke-width="0.2" font-weight="bold" >0.6</text>
<text transform="translate(248.5,230.45) scale(1,0.95)" font-size="7.6" text-anchor="end" fill="#000" stroke="#000" stroke-width="0.2" font-weight="bold" >0.8</text>
<text transform="translate(248.5,206.62) scale(1,0.95)" font-size="7.6" text-anchor="end" fill="#000" stroke="#000" stroke-width="0.2" font-weight="bold" >1.0</text>
<path d="M253.3 335.32H251.9M253.3 323.4H250.7M253.3 311.48H251.9M253.3 299.56H250.7M253.3 287.65H251.9M253.3 275.73H250.7M253.3 263.81H251.9M253.3 251.89H250.7M253.3 239.97H251.9M253.3 228.05H250.7M253.3 216.14H251.9M253.3 204.22H250.7M253.3 192.3H251.9" stroke="#454545" stroke-width="0.9" fill="none"/>
<text x="255.5" y="203.5" font-size="12.2" text-anchor="start" fill="#000" stroke="#000" stroke-width="0.2" font-weight="bold" >(d)</text>
<text x="342.95" y="363.9" font-size="12.2" text-anchor="middle" fill="#000" stroke="#000" stroke-width="0.2" font-weight="bold" >Frequency (Hz)</text>
<text transform="translate(232.4,263.95) rotate(-90)" x="0" y="0" font-size="12.2" text-anchor="middle" font-weight="bold" stroke="#000" stroke-width="0.2">Dielectric loss tangent</text>
<rect x="322.4" y="199.4" width="3.2" height="3.2" fill="#000000"/>
<text transform="translate(425.9,203.6) scale(0.99,1)" font-size="7.7" text-anchor="end" fill="#000000" stroke="#000000" stroke-width="0.2" font-weight="bold" >0 vol% mhBN<tspan font-size="7.2" font-weight="normal" stroke-width="0" fill-opacity="0.8">@</tspan>GO/XNBR</text>
<circle cx="324" cy="210.5" r="1.85" fill="#ff0000"/>
<text transform="translate(425.9,213.1) scale(0.99,1)" font-size="7.7" text-anchor="end" fill="#e0101a" stroke="#e0101a" stroke-width="0.2" font-weight="bold" >10 vol% mhBN<tspan font-size="7.2" font-weight="normal" stroke-width="0" fill-opacity="0.8">@</tspan>GO/XNBR</text>
<path d="M322 220.93L326 220.93L324 217.33Z" fill="#0000ff"/>
<text transform="translate(425.9,222) scale(0.99,1)" font-size="7.7" text-anchor="end" fill="#1818e0" stroke="#1818e0" stroke-width="0.2" font-weight="bold" >20 vol% mhBN<tspan font-size="7.2" font-weight="normal" stroke-width="0" fill-opacity="0.8">@</tspan>GO/XNBR</text>
<path d="M322 227.17L326 227.17L324 230.77Z" fill="#008000"/>
<text transform="translate(425.9,231.3) scale(0.99,1)" font-size="7.7" text-anchor="end" fill="#0a800a" stroke="#0a800a" stroke-width="0.2" font-weight="bold" >30 vol% mhBN<tspan font-size="7.2" font-weight="normal" stroke-width="0" fill-opacity="0.8">@</tspan>GO/XNBR</text>
<clipPath id="ce"><rect x="39.1" y="372.8" width="173.7" height="140"/></clipPath>
<g clip-path="url(#ce)">
<rect x="37.5" y="480.2" width="3.2" height="3.2" fill="#000000"/>
<rect x="42.93" y="479.8" width="3.2" height="3.2" fill="#000000"/>
<rect x="48.36" y="479.6" width="3.2" height="3.2" fill="#000000"/>
<rect x="53.78" y="478.8" width="3.2" height="3.2" fill="#000000"/>
<rect x="59.21" y="477.8" width="3.2" height="3.2" fill="#000000"/>
<rect x="64.64" y="476.6" width="3.2" height="3.2" fill="#000000"/>
<rect x="70.07" y="475.2" width="3.2" height="3.2" fill="#000000"/>
<rect x="75.5" y="473.2" width="3.2" height="3.2" fill="#000000"/>
<rect x="80.93" y="471.2" width="3.2" height="3.2" fill="#000000"/>
<rect x="86.35" y="468.4" width="3.2" height="3.2" fill="#000000"/>
<rect x="91.78" y="465.6" width="3.2" height="3.2" fill="#000000"/>
<rect x="97.21" y="461.6" width="3.2" height="3.2" fill="#000000"/>
<rect x="102.64" y="458.2" width="3.2" height="3.2" fill="#000000"/>
<rect x="108.07" y="453.8" width="3.2" height="3.2" fill="#000000"/>
<rect x="113.49" y="449.2" width="3.2" height="3.2" fill="#000000"/>
<rect x="118.92" y="444.2" width="3.2" height="3.2" fill="#000000"/>
<rect x="124.35" y="440" width="3.2" height="3.2" fill="#000000"/>
<rect x="129.78" y="435" width="3.2" height="3.2" fill="#000000"/>
<rect x="135.21" y="430" width="3.2" height="3.2" fill="#000000"/>
<rect x="140.63" y="425" width="3.2" height="3.2" fill="#000000"/>
<rect x="146.06" y="419.8" width="3.2" height="3.2" fill="#000000"/>
<rect x="151.49" y="414.8" width="3.2" height="3.2" fill="#000000"/>
<rect x="156.92" y="410" width="3.2" height="3.2" fill="#000000"/>
<rect x="162.35" y="405" width="3.2" height="3.2" fill="#000000"/>
<rect x="167.78" y="400.6" width="3.2" height="3.2" fill="#000000"/>
<rect x="173.2" y="396" width="3.2" height="3.2" fill="#000000"/>
<rect x="178.63" y="392" width="3.2" height="3.2" fill="#000000"/>
<rect x="184.06" y="388" width="3.2" height="3.2" fill="#000000"/>
<rect x="189.49" y="384.8" width="3.2" height="3.2" fill="#000000"/>
<rect x="194.92" y="381.6" width="3.2" height="3.2" fill="#000000"/>
<rect x="200.34" y="378.8" width="3.2" height="3.2" fill="#000000"/>
<rect x="205.77" y="376.4" width="3.2" height="3.2" fill="#000000"/>
<rect x="211.2" y="373.8" width="3.2" height="3.2" fill="#000000"/>
<circle cx="39.1" cy="486.6" r="1.85" fill="#ff0000"/>
<circle cx="44.53" cy="486" r="1.85" fill="#ff0000"/>
<circle cx="49.96" cy="485.4" r="1.85" fill="#ff0000"/>
<circle cx="55.38" cy="484.6" r="1.85" fill="#ff0000"/>
<circle cx="60.81" cy="482.8" r="1.85" fill="#ff0000"/>
<circle cx="66.24" cy="481.4" r="1.85" fill="#ff0000"/>
<circle cx="71.67" cy="479.8" r="1.85" fill="#ff0000"/>
<circle cx="77.1" cy="477.8" r="1.85" fill="#ff0000"/>
<circle cx="82.53" cy="475.4" r="1.85" fill="#ff0000"/>
<circle cx="87.95" cy="472.8" r="1.85" fill="#ff0000"/>
<circle cx="93.38" cy="469.6" r="1.85" fill="#ff0000"/>
<circle cx="98.81" cy="466.2" r="1.85" fill="#ff0000"/>
<circle cx="104.24" cy="462.4" r="1.85" fill="#ff0000"/>
<circle cx="109.67" cy="458" r="1.85" fill="#ff0000"/>
<circle cx="115.09" cy="453.4" r="1.85" fill="#ff0000"/>
<circle cx="120.52" cy="449" r="1.85" fill="#ff0000"/>
<circle cx="125.95" cy="444.6" r="1.85" fill="#ff0000"/>
<circle cx="131.38" cy="439.8" r="1.85" fill="#ff0000"/>
<circle cx="136.81" cy="434.4" r="1.85" fill="#ff0000"/>
<circle cx="142.23" cy="429.4" r="1.85" fill="#ff0000"/>
<circle cx="147.66" cy="424.2" r="1.85" fill="#ff0000"/>
<circle cx="153.09" cy="419" r="1.85" fill="#ff0000"/>
<circle cx="158.52" cy="414" r="1.85" fill="#ff0000"/>
<circle cx="163.95" cy="409.2" r="1.85" fill="#ff0000"/>
<circle cx="169.38" cy="404.2" r="1.85" fill="#ff0000"/>
<circle cx="174.8" cy="399.6" r="1.85" fill="#ff0000"/>
<circle cx="180.23" cy="395" r="1.85" fill="#ff0000"/>
<circle cx="185.66" cy="391.2" r="1.85" fill="#ff0000"/>
<circle cx="191.09" cy="388" r="1.85" fill="#ff0000"/>
<circle cx="196.52" cy="384.6" r="1.85" fill="#ff0000"/>
<circle cx="201.94" cy="381.8" r="1.85" fill="#ff0000"/>
<circle cx="207.37" cy="379" r="1.85" fill="#ff0000"/>
<circle cx="212.8" cy="376.6" r="1.85" fill="#ff0000"/>
<path d="M37.1 488.53L41.1 488.53L39.1 484.93Z" fill="#0000ff"/>
<path d="M42.53 488.13L46.53 488.13L44.53 484.53Z" fill="#0000ff"/>
<path d="M47.96 487.13L51.96 487.13L49.96 483.53Z" fill="#0000ff"/>
<path d="M53.38 486.13L57.38 486.13L55.38 482.53Z" fill="#0000ff"/>
<path d="M58.81 484.93L62.81 484.93L60.81 481.33Z" fill="#0000ff"/>
<path d="M64.24 483.33L68.24 483.33L66.24 479.73Z" fill="#0000ff"/>
<path d="M69.67 481.73L73.67 481.73L71.67 478.13Z" fill="#0000ff"/>
<path d="M75.1 479.73L79.1 479.73L77.1 476.13Z" fill="#0000ff"/>
<path d="M80.53 477.73L84.53 477.73L82.53 474.13Z" fill="#0000ff"/>
<path d="M85.95 475.33L89.95 475.33L87.95 471.73Z" fill="#0000ff"/>
<path d="M91.38 472.13L95.38 472.13L93.38 468.53Z" fill="#0000ff"/>
<path d="M96.81 469.13L100.81 469.13L98.81 465.53Z" fill="#0000ff"/>
<path d="M102.24 465.73L106.24 465.73L104.24 462.13Z" fill="#0000ff"/>
<path d="M107.67 461.53L111.67 461.53L109.67 457.93Z" fill="#0000ff"/>
<path d="M113.09 457.33L117.09 457.33L115.09 453.73Z" fill="#0000ff"/>
<path d="M118.52 453.53L122.52 453.53L120.52 449.93Z" fill="#0000ff"/>
<path d="M123.95 449.33L127.95 449.33L125.95 445.73Z" fill="#0000ff"/>
<path d="M129.38 444.53L133.38 444.53L131.38 440.93Z" fill="#0000ff"/>
<path d="M134.81 439.53L138.81 439.53L136.81 435.93Z" fill="#0000ff"/>
<path d="M140.23 434.53L144.23 434.53L142.23 430.93Z" fill="#0000ff"/>
<path d="M145.66 429.33L149.66 429.33L147.66 425.73Z" fill="#0000ff"/>
<path d="M151.09 424.13L155.09 424.13L153.09 420.53Z" fill="#0000ff"/>
<path d="M156.52 419.33L160.52 419.33L158.52 415.73Z" fill="#0000ff"/>
<path d="M161.95 414.33L165.95 414.33L163.95 410.73Z" fill="#0000ff"/>
<path d="M167.38 409.53L171.38 409.53L169.38 405.93Z" fill="#0000ff"/>
<path d="M172.8 404.73L176.8 404.73L174.8 401.13Z" fill="#0000ff"/>
<path d="M178.23 400.13L182.23 400.13L180.23 396.53Z" fill="#0000ff"/>
<path d="M183.66 396.13L187.66 396.13L185.66 392.53Z" fill="#0000ff"/>
<path d="M189.09 392.53L193.09 392.53L191.09 388.93Z" fill="#0000ff"/>
<path d="M194.52 389.13L198.52 389.13L196.52 385.53Z" fill="#0000ff"/>
<path d="M199.94 386.13L203.94 386.13L201.94 382.53Z" fill="#0000ff"/>
<path d="M205.37 382.93L209.37 382.93L207.37 379.33Z" fill="#0000ff"/>
<path d="M210.8 380.53L214.8 380.53L212.8 376.93Z" fill="#0000ff"/>
<path d="M37.1 489.87L41.1 489.87L39.1 493.47Z" fill="#008000"/>
<path d="M42.53 489.47L46.53 489.47L44.53 493.07Z" fill="#008000"/>
<path d="M47.96 488.47L51.96 488.47L49.96 492.07Z" fill="#008000"/>
<path d="M53.38 487.47L57.38 487.47L55.38 491.07Z" fill="#008000"/>
<path d="M58.81 486.47L62.81 486.47L60.81 490.07Z" fill="#008000"/>
<path d="M64.24 485.07L68.24 485.07L66.24 488.67Z" fill="#008000"/>
<path d="M69.67 482.47L73.67 482.47L71.67 486.07Z" fill="#008000"/>
<path d="M75.1 480.87L79.1 480.87L77.1 484.47Z" fill="#008000"/>
<path d="M80.53 478.87L84.53 478.87L82.53 482.47Z" fill="#008000"/>
<path d="M85.95 475.67L89.95 475.67L87.95 479.27Z" fill="#008000"/>
<path d="M91.38 473.27L95.38 473.27L93.38 476.87Z" fill="#008000"/>
<path d="M96.81 469.47L100.81 469.47L98.81 473.07Z" fill="#008000"/>
<path d="M102.24 465.67L106.24 465.67L104.24 469.27Z" fill="#008000"/>
<path d="M107.67 462.47L111.67 462.47L109.67 466.07Z" fill="#008000"/>
<path d="M113.09 458.27L117.09 458.27L115.09 461.87Z" fill="#008000"/>
<path d="M118.52 452.87L122.52 452.87L120.52 456.47Z" fill="#008000"/>
<path d="M123.95 449.67L127.95 449.67L125.95 453.27Z" fill="#008000"/>
<path d="M129.38 444.27L133.38 444.27L131.38 447.87Z" fill="#008000"/>
<path d="M134.81 439.47L138.81 439.47L136.81 443.07Z" fill="#008000"/>
<path d="M140.23 434.47L144.23 434.47L142.23 438.07Z" fill="#008000"/>
<path d="M145.66 429.27L149.66 429.27L147.66 432.87Z" fill="#008000"/>
<path d="M151.09 424.07L155.09 424.07L153.09 427.67Z" fill="#008000"/>
<path d="M156.52 419.27L160.52 419.27L158.52 422.87Z" fill="#008000"/>
<path d="M161.95 414.07L165.95 414.07L163.95 417.67Z" fill="#008000"/>
<path d="M167.38 409.27L171.38 409.27L169.38 412.87Z" fill="#008000"/>
<path d="M172.8 404.27L176.8 404.27L174.8 407.87Z" fill="#008000"/>
<path d="M178.23 399.87L182.23 399.87L180.23 403.47Z" fill="#008000"/>
<path d="M183.66 395.27L187.66 395.27L185.66 398.87Z" fill="#008000"/>
<path d="M189.09 392.07L193.09 392.07L191.09 395.67Z" fill="#008000"/>
<path d="M194.52 388.47L198.52 388.47L196.52 392.07Z" fill="#008000"/>
<path d="M199.94 385.07L203.94 385.07L201.94 388.67Z" fill="#008000"/>
<path d="M205.37 382.07L209.37 382.07L207.37 385.67Z" fill="#008000"/>
<path d="M210.8 379.27L214.8 379.27L212.8 382.87Z" fill="#008000"/>
</g>
<rect x="39.1" y="372.8" width="173.7" height="140" fill="none" stroke="#585858" stroke-width="1.3"/>
<text transform="translate(39.7,525.3) scale(1,0.95)" font-size="7.6" text-anchor="middle" fill="#000" stroke="#000" stroke-width="0.2" font-weight="bold" >10<tspan font-size="4.9" dx="0.5" dy="-3.5" stroke-width="0.35">1</tspan></text>
<text transform="translate(68.65,525.3) scale(1,0.95)" font-size="7.6" text-anchor="middle" fill="#000" stroke="#000" stroke-width="0.2" font-weight="bold" >10<tspan font-size="4.9" dx="0.5" dy="-3.5" stroke-width="0.35">2</tspan></text>
<text transform="translate(97.6,525.3) scale(1,0.95)" font-size="7.6" text-anchor="middle" fill="#000" stroke="#000" stroke-width="0.2" font-weight="bold" >10<tspan font-size="4.9" dx="0.5" dy="-3.5" stroke-width="0.35">3</tspan></text>
<text transform="translate(126.55,525.3) scale(1,0.95)" font-size="7.6" text-anchor="middle" fill="#000" stroke="#000" stroke-width="0.2" font-weight="bold" >10<tspan font-size="4.9" dx="0.5" dy="-3.5" stroke-width="0.35">4</tspan></text>
<text transform="translate(155.5,525.3) scale(1,0.95)" font-size="7.6" text-anchor="middle" fill="#000" stroke="#000" stroke-width="0.2" font-weight="bold" >10<tspan font-size="4.9" dx="0.5" dy="-3.5" stroke-width="0.35">5</tspan></text>
<text transform="translate(184.45,525.3) scale(1,0.95)" font-size="7.6" text-anchor="middle" fill="#000" stroke="#000" stroke-width="0.2" font-weight="bold" >10<tspan font-size="4.9" dx="0.5" dy="-3.5" stroke-width="0.35">6</tspan></text>
<text transform="translate(213.4,525.3) scale(1,0.95)" font-size="7.6" text-anchor="middle" fill="#000" stroke="#000" stroke-width="0.2" font-weight="bold" >10<tspan font-size="4.9" dx="0.5" dy="-3.5" stroke-width="0.35">7</tspan></text>
<path d="M39.1 512.8V515.4M47.81 512.8V514.2M52.91 512.8V514.2M56.53 512.8V514.2M59.34 512.8V514.2M61.63 512.8V514.2M63.57 512.8V514.2M65.24 512.8V514.2M66.73 512.8V514.2M68.05 512.8V515.4M76.76 512.8V514.2M81.86 512.8V514.2M85.48 512.8V514.2M88.29 512.8V514.2M90.58 512.8V514.2M92.52 512.8V514.2M94.19 512.8V514.2M95.68 512.8V514.2M97 512.8V515.4M105.71 512.8V514.2M110.81 512.8V514.2M114.43 512.8V514.2M117.24 512.8V514.2M119.53 512.8V514.2M121.47 512.8V514.2M123.14 512.8V514.2M124.63 512.8V514.2M125.95 512.8V515.4M134.66 512.8V514.2M139.76 512.8V514.2M143.38 512.8V514.2M146.19 512.8V514.2M148.48 512.8V514.2M150.42 512.8V514.2M152.09 512.8V514.2M153.58 512.8V514.2M154.9 512.8V515.4M163.61 512.8V514.2M168.71 512.8V514.2M172.33 512.8V514.2M175.14 512.8V514.2M177.43 512.8V514.2M179.37 512.8V514.2M181.04 512.8V514.2M182.53 512.8V514.2M183.85 512.8V515.4M192.56 512.8V514.2M197.66 512.8V514.2M201.28 512.8V514.2M204.09 512.8V514.2M206.38 512.8V514.2M208.32 512.8V514.2M209.99 512.8V514.2M211.48 512.8V514.2M212.8 512.8V515.4" stroke="#454545" stroke-width="0.9" fill="none"/>
<text transform="translate(34.7,515.8) scale(1,0.95)" font-size="7.6" text-anchor="end" fill="#000" stroke="#000" stroke-width="0.2" font-weight="bold" >10<tspan font-size="5.0" dx="0.3" dy="-3.5" stroke-width="0.35">-12</tspan></text>
<text transform="translate(34.7,495.8) scale(1,0.95)" font-size="7.6" text-anchor="end" fill="#000" stroke="#000" stroke-width="0.2" font-weight="bold" >10<tspan font-size="5.0" dx="0.3" dy="-3.5" stroke-width="0.35">-11</tspan></text>
<text transform="translate(34.7,475.8) scale(1,0.95)" font-size="7.6" text-anchor="end" fill="#000" stroke="#000" stroke-width="0.2" font-weight="bold" >10<tspan font-size="5.0" dx="0.3" dy="-3.5" stroke-width="0.35">-10</tspan></text>
<text transform="translate(34.7,455.8) scale(1,0.95)" font-size="7.6" text-anchor="end" fill="#000" stroke="#000" stroke-width="0.2" font-weight="bold" >10<tspan font-size="5.0" dx="0.3" dy="-3.5" stroke-width="0.35">-9</tspan></text>
<text transform="translate(34.7,435.8) scale(1,0.95)" font-size="7.6" text-anchor="end" fill="#000" stroke="#000" stroke-width="0.2" font-weight="bold" >10<tspan font-size="5.0" dx="0.3" dy="-3.5" stroke-width="0.35">-8</tspan></text>
<text transform="translate(34.7,415.8) scale(1,0.95)" font-size="7.6" text-anchor="end" fill="#000" stroke="#000" stroke-width="0.2" font-weight="bold" >10<tspan font-size="5.0" dx="0.3" dy="-3.5" stroke-width="0.35">-7</tspan></text>
<text transform="translate(34.7,395.8) scale(1,0.95)" font-size="7.6" text-anchor="end" fill="#000" stroke="#000" stroke-width="0.2" font-weight="bold" >10<tspan font-size="5.0" dx="0.3" dy="-3.5" stroke-width="0.35">-6</tspan></text>
<text transform="translate(34.7,375.8) scale(1,0.95)" font-size="7.6" text-anchor="end" fill="#000" stroke="#000" stroke-width="0.2" font-weight="bold" >10<tspan font-size="5.0" dx="0.3" dy="-3.5" stroke-width="0.35">-5</tspan></text>
<path d="M39.1 512.8H36.5M39.1 506.78H37.7M39.1 503.26H37.7M39.1 500.76H37.7M39.1 498.82H37.7M39.1 497.24H37.7M39.1 495.9H37.7M39.1 494.74H37.7M39.1 493.72H37.7M39.1 492.8H36.5M39.1 486.78H37.7M39.1 483.26H37.7M39.1 480.76H37.7M39.1 478.82H37.7M39.1 477.24H37.7M39.1 475.9H37.7M39.1 474.74H37.7M39.1 473.72H37.7M39.1 472.8H36.5M39.1 466.78H37.7M39.1 463.26H37.7M39.1 460.76H37.7M39.1 458.82H37.7M39.1 457.24H37.7M39.1 455.9H37.7M39.1 454.74H37.7M39.1 453.72H37.7M39.1 452.8H36.5M39.1 446.78H37.7M39.1 443.26H37.7M39.1 440.76H37.7M39.1 438.82H37.7M39.1 437.24H37.7M39.1 435.9H37.7M39.1 434.74H37.7M39.1 433.72H37.7M39.1 432.8H36.5M39.1 426.78H37.7M39.1 423.26H37.7M39.1 420.76H37.7M39.1 418.82H37.7M39.1 417.24H37.7M39.1 415.9H37.7M39.1 414.74H37.7M39.1 413.72H37.7M39.1 412.8H36.5M39.1 406.78H37.7M39.1 403.26H37.7M39.1 400.76H37.7M39.1 398.82H37.7M39.1 397.24H37.7M39.1 395.9H37.7M39.1 394.74H37.7M39.1 393.72H37.7M39.1 392.8H36.5M39.1 386.78H37.7M39.1 383.26H37.7M39.1 380.76H37.7M39.1 378.82H37.7M39.1 377.24H37.7M39.1 375.9H37.7M39.1 374.74H37.7M39.1 373.72H37.7M39.1 372.8H36.5" stroke="#454545" stroke-width="0.9" fill="none"/>
<text x="41.3" y="383.5" font-size="12.2" text-anchor="start" fill="#000" stroke="#000" stroke-width="0.2" font-weight="bold" >(e)</text>
<text x="127.55" y="540.3" font-size="12.2" text-anchor="middle" fill="#000" stroke="#000" stroke-width="0.2" font-weight="bold" >Frequency (Hz)</text>
<text transform="translate(13.6,442.8) rotate(-90)" x="0" y="0" font-size="12.2" text-anchor="middle" font-weight="bold" stroke="#000" stroke-width="0.2">AC conductivity (S/cm)</text>
<rect x="131.1" y="473.8" width="3.2" height="3.2" fill="#000000"/>
<text transform="translate(207.8,478) scale(0.955,1)" font-size="7.7" text-anchor="end" fill="#000000" stroke="#000000" stroke-width="0.2" font-weight="bold" >0 vol% hBN/XNBR</text>
<circle cx="132.7" cy="484.6" r="1.85" fill="#ff0000"/>
<text transform="translate(207.8,487.2) scale(0.955,1)" font-size="7.7" text-anchor="end" fill="#e0101a" stroke="#e0101a" stroke-width="0.2" font-weight="bold" >10 vol% hBN/XNBR</text>
<path d="M130.7 495.03L134.7 495.03L132.7 491.43Z" fill="#0000ff"/>
<text transform="translate(207.8,496.1) scale(0.955,1)" font-size="7.7" text-anchor="end" fill="#1818e0" stroke="#1818e0" stroke-width="0.2" font-weight="bold" >20 vol% hBN/XNBR</text>
<path d="M130.7 501.07L134.7 501.07L132.7 504.67Z" fill="#008000"/>
<text transform="translate(207.8,505.2) scale(0.955,1)" font-size="7.7" text-anchor="end" fill="#0a800a" stroke="#0a800a" stroke-width="0.2" font-weight="bold" >30 vol% hBN/XNBR</text>
<clipPath id="cf"><rect x="257.35" y="372.6" width="173.95" height="140.1"/></clipPath>
<g clip-path="url(#cf)">
<rect x="255.75" y="480" width="3.2" height="3.2" fill="#000000"/>
<rect x="261.19" y="479.8" width="3.2" height="3.2" fill="#000000"/>
<rect x="266.62" y="479.4" width="3.2" height="3.2" fill="#000000"/>
<rect x="272.06" y="478.6" width="3.2" height="3.2" fill="#000000"/>
<rect x="277.49" y="478" width="3.2" height="3.2" fill="#000000"/>
<rect x="282.93" y="476.8" width="3.2" height="3.2" fill="#000000"/>
<rect x="288.37" y="475.2" width="3.2" height="3.2" fill="#000000"/>
<rect x="293.8" y="472.4" width="3.2" height="3.2" fill="#000000"/>
<rect x="299.24" y="470.4" width="3.2" height="3.2" fill="#000000"/>
<rect x="304.67" y="467" width="3.2" height="3.2" fill="#000000"/>
<rect x="310.11" y="463.6" width="3.2" height="3.2" fill="#000000"/>
<rect x="315.55" y="460.2" width="3.2" height="3.2" fill="#000000"/>
<rect x="320.98" y="456.8" width="3.2" height="3.2" fill="#000000"/>
<rect x="326.42" y="453.4" width="3.2" height="3.2" fill="#000000"/>
<rect x="331.85" y="450" width="3.2" height="3.2" fill="#000000"/>
<rect x="337.29" y="446.2" width="3.2" height="3.2" fill="#000000"/>
<rect x="342.73" y="441" width="3.2" height="3.2" fill="#000000"/>
<rect x="348.16" y="435.4" width="3.2" height="3.2" fill="#000000"/>
<rect x="353.6" y="430.2" width="3.2" height="3.2" fill="#000000"/>
<rect x="359.03" y="425.2" width="3.2" height="3.2" fill="#000000"/>
<rect x="364.47" y="420" width="3.2" height="3.2" fill="#000000"/>
<rect x="369.9" y="414.8" width="3.2" height="3.2" fill="#000000"/>
<rect x="375.34" y="409.8" width="3.2" height="3.2" fill="#000000"/>
<rect x="380.78" y="405.3" width="3.2" height="3.2" fill="#000000"/>
<rect x="386.21" y="401" width="3.2" height="3.2" fill="#000000"/>
<rect x="391.65" y="396.6" width="3.2" height="3.2" fill="#000000"/>
<rect x="397.08" y="392.6" width="3.2" height="3.2" fill="#000000"/>
<rect x="402.52" y="388.6" width="3.2" height="3.2" fill="#000000"/>
<rect x="407.96" y="384.8" width="3.2" height="3.2" fill="#000000"/>
<rect x="413.39" y="382" width="3.2" height="3.2" fill="#000000"/>
<rect x="418.83" y="379.3" width="3.2" height="3.2" fill="#000000"/>
<rect x="424.26" y="376.6" width="3.2" height="3.2" fill="#000000"/>
<rect x="429.7" y="374.2" width="3.2" height="3.2" fill="#000000"/>
<circle cx="257.35" cy="483.6" r="1.85" fill="#ff0000"/>
<circle cx="262.79" cy="483.2" r="1.85" fill="#ff0000"/>
<circle cx="268.22" cy="482.6" r="1.85" fill="#ff0000"/>
<circle cx="273.66" cy="481.6" r="1.85" fill="#ff0000"/>
<circle cx="279.09" cy="480.6" r="1.85" fill="#ff0000"/>
<circle cx="284.53" cy="479.6" r="1.85" fill="#ff0000"/>
<circle cx="289.97" cy="478.6" r="1.85" fill="#ff0000"/>
<circle cx="295.4" cy="476.2" r="1.85" fill="#ff0000"/>
<circle cx="300.84" cy="474" r="1.85" fill="#ff0000"/>
<circle cx="306.27" cy="471.6" r="1.85" fill="#ff0000"/>
<circle cx="311.71" cy="468.6" r="1.85" fill="#ff0000"/>
<circle cx="317.15" cy="464.6" r="1.85" fill="#ff0000"/>
<circle cx="322.58" cy="461.4" r="1.85" fill="#ff0000"/>
<circle cx="328.02" cy="457.4" r="1.85" fill="#ff0000"/>
<circle cx="333.45" cy="452.8" r="1.85" fill="#ff0000"/>
<circle cx="338.89" cy="448.8" r="1.85" fill="#ff0000"/>
<circle cx="344.33" cy="443.8" r="1.85" fill="#ff0000"/>
<circle cx="349.76" cy="440.2" r="1.85" fill="#ff0000"/>
<circle cx="355.2" cy="436.4" r="1.85" fill="#ff0000"/>
<circle cx="360.63" cy="431.2" r="1.85" fill="#ff0000"/>
<circle cx="366.07" cy="425.8" r="1.85" fill="#ff0000"/>
<circle cx="371.5" cy="419.6" r="1.85" fill="#ff0000"/>
<circle cx="376.94" cy="414" r="1.85" fill="#ff0000"/>
<circle cx="382.38" cy="409.6" r="1.85" fill="#ff0000"/>
<circle cx="387.81" cy="404.6" r="1.85" fill="#ff0000"/>
<circle cx="393.25" cy="400.6" r="1.85" fill="#ff0000"/>
<circle cx="398.68" cy="396.4" r="1.85" fill="#ff0000"/>
<circle cx="404.12" cy="392.4" r="1.85" fill="#ff0000"/>
<circle cx="409.56" cy="388.6" r="1.85" fill="#ff0000"/>
<circle cx="414.99" cy="385.6" r="1.85" fill="#ff0000"/>
<circle cx="420.43" cy="383" r="1.85" fill="#ff0000"/>
<circle cx="425.86" cy="380.4" r="1.85" fill="#ff0000"/>
<circle cx="431.3" cy="378" r="1.85" fill="#ff0000"/>
<path d="M255.35 489.93L259.35 489.93L257.35 486.33Z" fill="#0000ff"/>
<path d="M260.79 489.33L264.79 489.33L262.79 485.73Z" fill="#0000ff"/>
<path d="M266.22 488.53L270.22 488.53L268.22 484.93Z" fill="#0000ff"/>
<path d="M271.66 487.53L275.66 487.53L273.66 483.93Z" fill="#0000ff"/>
<path d="M277.09 485.93L281.09 485.93L279.09 482.33Z" fill="#0000ff"/>
<path d="M282.53 483.73L286.53 483.73L284.53 480.13Z" fill="#0000ff"/>
<path d="M287.97 481.73L291.97 481.73L289.97 478.13Z" fill="#0000ff"/>
<path d="M293.4 478.93L297.4 478.93L295.4 475.33Z" fill="#0000ff"/>
<path d="M298.84 476.33L302.84 476.33L300.84 472.73Z" fill="#0000ff"/>
<path d="M304.27 472.93L308.27 472.93L306.27 469.33Z" fill="#0000ff"/>
<path d="M309.71 469.53L313.71 469.53L311.71 465.93Z" fill="#0000ff"/>
<path d="M315.15 465.13L319.15 465.13L317.15 461.53Z" fill="#0000ff"/>
<path d="M320.58 461.73L324.58 461.73L322.58 458.13Z" fill="#0000ff"/>
<path d="M326.02 457.93L330.02 457.93L328.02 454.33Z" fill="#0000ff"/>
<path d="M331.45 453.53L335.45 453.53L333.45 449.93Z" fill="#0000ff"/>
<path d="M336.89 449.53L340.89 449.53L338.89 445.93Z" fill="#0000ff"/>
<path d="M342.33 444.53L346.33 444.53L344.33 440.93Z" fill="#0000ff"/>
<path d="M347.76 441.33L351.76 441.33L349.76 437.73Z" fill="#0000ff"/>
<path d="M353.2 436.53L357.2 436.53L355.2 432.93Z" fill="#0000ff"/>
<path d="M358.63 431.93L362.63 431.93L360.63 428.33Z" fill="#0000ff"/>
<path d="M364.07 426.13L368.07 426.13L366.07 422.53Z" fill="#0000ff"/>
<path d="M369.5 420.13L373.5 420.13L371.5 416.53Z" fill="#0000ff"/>
<path d="M374.94 414.73L378.94 414.73L376.94 411.13Z" fill="#0000ff"/>
<path d="M380.38 410.53L384.38 410.53L382.38 406.93Z" fill="#0000ff"/>
<path d="M385.81 405.73L389.81 405.73L387.81 402.13Z" fill="#0000ff"/>
<path d="M391.25 401.73L395.25 401.73L393.25 398.13Z" fill="#0000ff"/>
<path d="M396.68 397.53L400.68 397.53L398.68 393.93Z" fill="#0000ff"/>
<path d="M402.12 393.73L406.12 393.73L404.12 390.13Z" fill="#0000ff"/>
<path d="M407.56 389.93L411.56 389.93L409.56 386.33Z" fill="#0000ff"/>
<path d="M412.99 387.03L416.99 387.03L414.99 383.43Z" fill="#0000ff"/>
<path d="M418.43 384.33L422.43 384.33L420.43 380.73Z" fill="#0000ff"/>
<path d="M423.86 381.63L427.86 381.63L425.86 378.03Z" fill="#0000ff"/>
<path d="M429.3 379.23L433.3 379.23L431.3 375.63Z" fill="#0000ff"/>
<path d="M255.35 487.47L259.35 487.47L257.35 491.07Z" fill="#008000"/>
<path d="M260.79 486.47L264.79 486.47L262.79 490.07Z" fill="#008000"/>
<path d="M266.22 484.87L270.22 484.87L268.22 488.47Z" fill="#008000"/>
<path d="M271.66 482.87L275.66 482.87L273.66 486.47Z" fill="#008000"/>
<path d="M277.09 480.07L281.09 480.07L279.09 483.67Z" fill="#008000"/>
<path d="M282.53 477.27L286.53 477.27L284.53 480.87Z" fill="#008000"/>
<path d="M287.97 475.07L291.97 475.07L289.97 478.67Z" fill="#008000"/>
<path d="M293.4 472.27L297.4 472.27L295.4 475.87Z" fill="#008000"/>
<path d="M298.84 468.67L302.84 468.67L300.84 472.27Z" fill="#008000"/>
<path d="M304.27 465.27L308.27 465.27L306.27 468.87Z" fill="#008000"/>
<path d="M309.71 461.87L313.71 461.87L311.71 465.47Z" fill="#008000"/>
<path d="M315.15 458.67L319.15 458.67L317.15 462.27Z" fill="#008000"/>
<path d="M320.58 455.27L324.58 455.27L322.58 458.87Z" fill="#008000"/>
<path d="M326.02 451.87L330.02 451.87L328.02 455.47Z" fill="#008000"/>
<path d="M331.45 448.47L335.45 448.47L333.45 452.07Z" fill="#008000"/>
<path d="M336.89 444.87L340.89 444.87L338.89 448.47Z" fill="#008000"/>
<path d="M342.33 440.07L346.33 440.07L344.33 443.67Z" fill="#008000"/>
<path d="M347.76 437.07L351.76 437.07L349.76 440.67Z" fill="#008000"/>
<path d="M353.2 432.07L357.2 432.07L355.2 435.67Z" fill="#008000"/>
<path d="M358.63 427.27L362.63 427.27L360.63 430.87Z" fill="#008000"/>
<path d="M364.07 423.07L368.07 423.07L366.07 426.67Z" fill="#008000"/>
<path d="M369.5 418.67L373.5 418.67L371.5 422.27Z" fill="#008000"/>
<path d="M374.94 413.87L378.94 413.87L376.94 417.47Z" fill="#008000"/>
<path d="M380.38 409.07L384.38 409.07L382.38 412.67Z" fill="#008000"/>
<path d="M385.81 404.67L389.81 404.67L387.81 408.27Z" fill="#008000"/>
<path d="M391.25 400.27L395.25 400.27L393.25 403.87Z" fill="#008000"/>
<path d="M396.68 395.87L400.68 395.87L398.68 399.47Z" fill="#008000"/>
<path d="M402.12 391.87L406.12 391.87L404.12 395.47Z" fill="#008000"/>
<path d="M407.56 387.87L411.56 387.87L409.56 391.47Z" fill="#008000"/>
<path d="M412.99 384.87L416.99 384.87L414.99 388.47Z" fill="#008000"/>
<path d="M418.43 381.97L422.43 381.97L420.43 385.57Z" fill="#008000"/>
<path d="M423.86 378.67L427.86 378.67L425.86 382.27Z" fill="#008000"/>
<path d="M429.3 376.47L433.3 376.47L431.3 380.07Z" fill="#008000"/>
</g>
<rect x="257.35" y="372.6" width="173.95" height="140.1" fill="none" stroke="#585858" stroke-width="1.3"/>
<text transform="translate(257.95,525.2) scale(1,0.95)" font-size="7.6" text-anchor="middle" fill="#000" stroke="#000" stroke-width="0.2" font-weight="bold" >10<tspan font-size="4.9" dx="0.5" dy="-3.5" stroke-width="0.35">1</tspan></text>
<text transform="translate(286.94,525.2) scale(1,0.95)" font-size="7.6" text-anchor="middle" fill="#000" stroke="#000" stroke-width="0.2" font-weight="bold" >10<tspan font-size="4.9" dx="0.5" dy="-3.5" stroke-width="0.35">2</tspan></text>
<text transform="translate(315.93,525.2) scale(1,0.95)" font-size="7.6" text-anchor="middle" fill="#000" stroke="#000" stroke-width="0.2" font-weight="bold" >10<tspan font-size="4.9" dx="0.5" dy="-3.5" stroke-width="0.35">3</tspan></text>
<text transform="translate(344.93,525.2) scale(1,0.95)" font-size="7.6" text-anchor="middle" fill="#000" stroke="#000" stroke-width="0.2" font-weight="bold" >10<tspan font-size="4.9" dx="0.5" dy="-3.5" stroke-width="0.35">4</tspan></text>
<text transform="translate(373.92,525.2) scale(1,0.95)" font-size="7.6" text-anchor="middle" fill="#000" stroke="#000" stroke-width="0.2" font-weight="bold" >10<tspan font-size="4.9" dx="0.5" dy="-3.5" stroke-width="0.35">5</tspan></text>
<text transform="translate(402.91,525.2) scale(1,0.95)" font-size="7.6" text-anchor="middle" fill="#000" stroke="#000" stroke-width="0.2" font-weight="bold" >10<tspan font-size="4.9" dx="0.5" dy="-3.5" stroke-width="0.35">6</tspan></text>
<text transform="translate(431.9,525.2) scale(1,0.95)" font-size="7.6" text-anchor="middle" fill="#000" stroke="#000" stroke-width="0.2" font-weight="bold" >10<tspan font-size="4.9" dx="0.5" dy="-3.5" stroke-width="0.35">7</tspan></text>
<path d="M257.35 512.7V515.3M266.08 512.7V514.1M271.18 512.7V514.1M274.8 512.7V514.1M277.61 512.7V514.1M279.91 512.7V514.1M281.85 512.7V514.1M283.53 512.7V514.1M285.02 512.7V514.1M286.34 512.7V515.3M295.07 512.7V514.1M300.17 512.7V514.1M303.8 512.7V514.1M306.61 512.7V514.1M308.9 512.7V514.1M310.84 512.7V514.1M312.52 512.7V514.1M314.01 512.7V514.1M315.33 512.7V515.3M324.06 512.7V514.1M329.17 512.7V514.1M332.79 512.7V514.1M335.6 512.7V514.1M337.89 512.7V514.1M339.83 512.7V514.1M341.52 512.7V514.1M343 512.7V514.1M344.33 512.7V515.3M353.05 512.7V514.1M358.16 512.7V514.1M361.78 512.7V514.1M364.59 512.7V514.1M366.88 512.7V514.1M368.83 512.7V514.1M370.51 512.7V514.1M371.99 512.7V514.1M373.32 512.7V515.3M382.04 512.7V514.1M387.15 512.7V514.1M390.77 512.7V514.1M393.58 512.7V514.1M395.88 512.7V514.1M397.82 512.7V514.1M399.5 512.7V514.1M400.98 512.7V514.1M402.31 512.7V515.3M411.04 512.7V514.1M416.14 512.7V514.1M419.76 512.7V514.1M422.57 512.7V514.1M424.87 512.7V514.1M426.81 512.7V514.1M428.49 512.7V514.1M429.97 512.7V514.1M431.3 512.7V515.3" stroke="#454545" stroke-width="0.9" fill="none"/>
<text transform="translate(252.95,515.6) scale(1,0.95)" font-size="7.6" text-anchor="end" fill="#000" stroke="#000" stroke-width="0.2" font-weight="bold" >10<tspan font-size="5.0" dx="0.3" dy="-3.5" stroke-width="0.35">-12</tspan></text>
<text transform="translate(252.95,495.6) scale(1,0.95)" font-size="7.6" text-anchor="end" fill="#000" stroke="#000" stroke-width="0.2" font-weight="bold" >10<tspan font-size="5.0" dx="0.3" dy="-3.5" stroke-width="0.35">-11</tspan></text>
<text transform="translate(252.95,475.6) scale(1,0.95)" font-size="7.6" text-anchor="end" fill="#000" stroke="#000" stroke-width="0.2" font-weight="bold" >10<tspan font-size="5.0" dx="0.3" dy="-3.5" stroke-width="0.35">-10</tspan></text>
<text transform="translate(252.95,455.6) scale(1,0.95)" font-size="7.6" text-anchor="end" fill="#000" stroke="#000" stroke-width="0.2" font-weight="bold" >10<tspan font-size="5.0" dx="0.3" dy="-3.5" stroke-width="0.35">-9</tspan></text>
<text transform="translate(252.95,435.6) scale(1,0.95)" font-size="7.6" text-anchor="end" fill="#000" stroke="#000" stroke-width="0.2" font-weight="bold" >10<tspan font-size="5.0" dx="0.3" dy="-3.5" stroke-width="0.35">-8</tspan></text>
<text transform="translate(252.95,415.6) scale(1,0.95)" font-size="7.6" text-anchor="end" fill="#000" stroke="#000" stroke-width="0.2" font-weight="bold" >10<tspan font-size="5.0" dx="0.3" dy="-3.5" stroke-width="0.35">-7</tspan></text>
<text transform="translate(252.95,395.6) scale(1,0.95)" font-size="7.6" text-anchor="end" fill="#000" stroke="#000" stroke-width="0.2" font-weight="bold" >10<tspan font-size="5.0" dx="0.3" dy="-3.5" stroke-width="0.35">-6</tspan></text>
<text transform="translate(252.95,375.6) scale(1,0.95)" font-size="7.6" text-anchor="end" fill="#000" stroke="#000" stroke-width="0.2" font-weight="bold" >10<tspan font-size="5.0" dx="0.3" dy="-3.5" stroke-width="0.35">-5</tspan></text>
<path d="M257.35 512.6H254.75M257.35 506.58H255.95M257.35 503.06H255.95M257.35 500.56H255.95M257.35 498.62H255.95M257.35 497.04H255.95M257.35 495.7H255.95M257.35 494.54H255.95M257.35 493.52H255.95M257.35 492.6H254.75M257.35 486.58H255.95M257.35 483.06H255.95M257.35 480.56H255.95M257.35 478.62H255.95M257.35 477.04H255.95M257.35 475.7H255.95M257.35 474.54H255.95M257.35 473.52H255.95M257.35 472.6H254.75M257.35 466.58H255.95M257.35 463.06H255.95M257.35 460.56H255.95M257.35 458.62H255.95M257.35 457.04H255.95M257.35 455.7H255.95M257.35 454.54H255.95M257.35 453.52H255.95M257.35 452.6H254.75M257.35 446.58H255.95M257.35 443.06H255.95M257.35 440.56H255.95M257.35 438.62H255.95M257.35 437.04H255.95M257.35 435.7H255.95M257.35 434.54H255.95M257.35 433.52H255.95M257.35 432.6H254.75M257.35 426.58H255.95M257.35 423.06H255.95M257.35 420.56H255.95M257.35 418.62H255.95M257.35 417.04H255.95M257.35 415.7H255.95M257.35 414.54H255.95M257.35 413.52H255.95M257.35 412.6H254.75M257.35 406.58H255.95M257.35 403.06H255.95M257.35 400.56H255.95M257.35 398.62H255.95M257.35 397.04H255.95M257.35 395.7H255.95M257.35 394.54H255.95M257.35 393.52H255.95M257.35 392.6H254.75M257.35 386.58H255.95M257.35 383.06H255.95M257.35 380.56H255.95M257.35 378.62H255.95M257.35 377.04H255.95M257.35 375.7H255.95M257.35 374.54H255.95M257.35 373.52H255.95M257.35 372.6H254.75" stroke="#454545" stroke-width="0.9" fill="none"/>
<text x="259.55" y="383.3" font-size="12.2" text-anchor="start" fill="#000" stroke="#000" stroke-width="0.2" font-weight="bold" >(f)</text>
<text x="345.53" y="540.2" font-size="12.2" text-anchor="middle" fill="#000" stroke="#000" stroke-width="0.2" font-weight="bold" >Frequency (Hz)</text>
<text transform="translate(232.3,442.65) rotate(-90)" x="0" y="0" font-size="12.2" text-anchor="middle" font-weight="bold" stroke="#000" stroke-width="0.2">AC conductivity (S/cm)</text>
<rect x="325" y="473.8" width="3.2" height="3.2" fill="#000000"/>
<text transform="translate(425.9,478) scale(0.965,1)" font-size="7.7" text-anchor="end" fill="#000000" stroke="#000000" stroke-width="0.2" font-weight="bold" >0 vol% mhBN<tspan font-size="7.2" font-weight="normal" stroke-width="0" fill-opacity="0.8">@</tspan>GO/XNBR</text>
<circle cx="326.6" cy="484.8" r="1.85" fill="#ff0000"/>
<text transform="translate(425.9,487.4) scale(0.965,1)" font-size="7.7" text-anchor="end" fill="#e0101a" stroke="#e0101a" stroke-width="0.2" font-weight="bold" >10 vol% mhBN<tspan font-size="7.2" font-weight="normal" stroke-width="0" fill-opacity="0.8">@</tspan>GO/XNBR</text>
<path d="M324.6 495.03L328.6 495.03L326.6 491.43Z" fill="#0000ff"/>
<text transform="translate(425.9,496.1) scale(0.965,1)" font-size="7.7" text-anchor="end" fill="#1818e0" stroke="#1818e0" stroke-width="0.2" font-weight="bold" >20 vol% mhBN<tspan font-size="7.2" font-weight="normal" stroke-width="0" fill-opacity="0.8">@</tspan>GO/XNBR</text>
<path d="M324.6 501.47L328.6 501.47L326.6 505.07Z" fill="#008000"/>
<text transform="translate(425.9,505.6) scale(0.965,1)" font-size="7.7" text-anchor="end" fill="#0a800a" stroke="#0a800a" stroke-width="0.2" font-weight="bold" >30 vol% mhBN<tspan font-size="7.2" font-weight="normal" stroke-width="0" fill-opacity="0.8">@</tspan>GO/XNBR</text>
</svg></body></html>
